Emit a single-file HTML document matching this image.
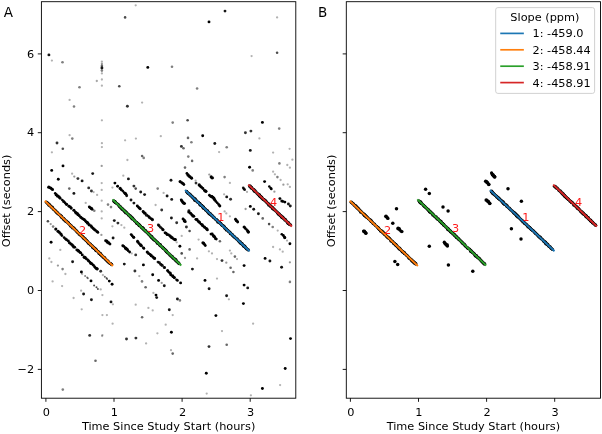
<!DOCTYPE html>
<html><head><meta charset="utf-8"><title>Figure</title>
<style>html,body{margin:0;padding:0;background:#fff}svg{display:block}</style></head>
<body>
<svg width="602" height="434" viewBox="0 0 602 434" font-family="DejaVu Sans, Liberation Sans, sans-serif" font-size="11.3">
<rect width="602" height="434" fill="#fff"/>
<filter id="soft" x="0" y="0" width="100%" height="100%" filterUnits="userSpaceOnUse"><feGaussianBlur stdDeviation="0.38"/></filter>
<g filter="url(#soft)">
<rect width="602" height="434" fill="#fff"/>
<clipPath id="cA"><rect x="41.4" y="1.7" width="254.4" height="396.5"/></clipPath>
<g clip-path="url(#cA)">
<circle cx="135.7" cy="5.3" r="1.15" fill="#000" fill-opacity="0.3"/>
<circle cx="125.1" cy="17.4" r="1.3" fill="#000" fill-opacity="0.7"/>
<circle cx="48.9" cy="54.9" r="1.45" fill="#000" fill-opacity="0.9"/>
<circle cx="51.9" cy="60.6" r="1.15" fill="#000" fill-opacity="0.3"/>
<circle cx="62.5" cy="62.3" r="1.3" fill="#000" fill-opacity="0.5"/>
<circle cx="101.9" cy="61.7" r="1.15" fill="#000" fill-opacity="0.3"/>
<circle cx="101.9" cy="63.8" r="1.15" fill="#000" fill-opacity="0.4"/>
<circle cx="101.9" cy="65.9" r="1.3" fill="#000" fill-opacity="0.6"/>
<circle cx="101.9" cy="68.0" r="1.45" fill="#000" fill-opacity="0.9"/>
<circle cx="101.9" cy="70.6" r="1.3" fill="#000" fill-opacity="0.5"/>
<circle cx="101.9" cy="73.4" r="1.15" fill="#000" fill-opacity="0.3"/>
<circle cx="147.8" cy="67.4" r="1.45" fill="#000" fill-opacity="1"/>
<circle cx="96.8" cy="81.0" r="1.15" fill="#000" fill-opacity="0.35"/>
<circle cx="101.9" cy="79.5" r="1.15" fill="#000" fill-opacity="0.3"/>
<circle cx="101.9" cy="85.7" r="1.15" fill="#000" fill-opacity="0.3"/>
<circle cx="79.5" cy="87.2" r="1.3" fill="#000" fill-opacity="0.5"/>
<circle cx="119.3" cy="86.3" r="1.3" fill="#000" fill-opacity="0.7"/>
<circle cx="225.0" cy="11.1" r="1.45" fill="#000" fill-opacity="0.9"/>
<circle cx="209.0" cy="21.9" r="1.45" fill="#000" fill-opacity="1"/>
<circle cx="277.1" cy="17.4" r="1.15" fill="#000" fill-opacity="0.3"/>
<circle cx="277.1" cy="52.7" r="1.3" fill="#000" fill-opacity="0.7"/>
<circle cx="251.6" cy="56.1" r="1.15" fill="#000" fill-opacity="0.3"/>
<circle cx="172.0" cy="66.8" r="1.3" fill="#000" fill-opacity="0.5"/>
<circle cx="197.1" cy="88.5" r="1.3" fill="#000" fill-opacity="0.5"/>
<circle cx="69.6" cy="99.9" r="1.15" fill="#000" fill-opacity="0.3"/>
<circle cx="74.0" cy="106.5" r="1.3" fill="#000" fill-opacity="0.5"/>
<circle cx="127.4" cy="106.2" r="1.45" fill="#000" fill-opacity="0.8"/>
<circle cx="142.1" cy="102.6" r="1.15" fill="#000" fill-opacity="0.3"/>
<circle cx="101.9" cy="120.3" r="1.15" fill="#000" fill-opacity="0.3"/>
<circle cx="69.6" cy="135.2" r="1.15" fill="#000" fill-opacity="0.3"/>
<circle cx="72.3" cy="138.6" r="1.3" fill="#000" fill-opacity="0.5"/>
<circle cx="57.0" cy="143.0" r="1.45" fill="#000" fill-opacity="0.8"/>
<circle cx="62.8" cy="148.8" r="1.3" fill="#000" fill-opacity="0.7"/>
<circle cx="101.9" cy="143.2" r="1.15" fill="#000" fill-opacity="0.3"/>
<circle cx="101.9" cy="147.1" r="1.15" fill="#000" fill-opacity="0.3"/>
<circle cx="125.1" cy="140.3" r="1.15" fill="#000" fill-opacity="0.3"/>
<circle cx="135.9" cy="138.6" r="1.15" fill="#000" fill-opacity="0.3"/>
<circle cx="160.8" cy="136.2" r="1.15" fill="#000" fill-opacity="0.3"/>
<circle cx="172.7" cy="122.6" r="1.3" fill="#000" fill-opacity="0.5"/>
<circle cx="187.6" cy="120.3" r="1.3" fill="#000" fill-opacity="0.7"/>
<circle cx="262.4" cy="122.4" r="1.45" fill="#000" fill-opacity="1"/>
<circle cx="279.2" cy="128.6" r="1.3" fill="#000" fill-opacity="0.5"/>
<circle cx="250.9" cy="131.1" r="1.45" fill="#000" fill-opacity="0.8"/>
<circle cx="245.4" cy="132.8" r="1.45" fill="#000" fill-opacity="0.8"/>
<circle cx="202.7" cy="135.8" r="1.45" fill="#000" fill-opacity="1"/>
<circle cx="188.0" cy="137.9" r="1.3" fill="#000" fill-opacity="0.6"/>
<circle cx="191.4" cy="142.2" r="1.3" fill="#000" fill-opacity="0.5"/>
<circle cx="259.4" cy="138.4" r="1.15" fill="#000" fill-opacity="0.3"/>
<circle cx="214.8" cy="143.5" r="1.45" fill="#000" fill-opacity="0.9"/>
<circle cx="181.4" cy="146.4" r="1.45" fill="#000" fill-opacity="0.8"/>
<circle cx="183.5" cy="148.3" r="1.3" fill="#000" fill-opacity="0.6"/>
<circle cx="226.7" cy="147.3" r="1.3" fill="#000" fill-opacity="0.5"/>
<circle cx="51.9" cy="152.3" r="1.15" fill="#000" fill-opacity="0.3"/>
<circle cx="63.0" cy="165.9" r="1.45" fill="#000" fill-opacity="1"/>
<circle cx="51.7" cy="170.4" r="1.45" fill="#000" fill-opacity="1"/>
<circle cx="58.3" cy="179.3" r="1.45" fill="#000" fill-opacity="1"/>
<circle cx="101.7" cy="165.9" r="1.15" fill="#000" fill-opacity="0.4"/>
<circle cx="92.7" cy="173.6" r="1.45" fill="#000" fill-opacity="0.9"/>
<circle cx="123.3" cy="175.7" r="1.15" fill="#000" fill-opacity="0.3"/>
<circle cx="72.1" cy="173.7" r="1.15" fill="#000" fill-opacity="0.3"/>
<circle cx="74.3" cy="176.6" r="1.15" fill="#000" fill-opacity="0.4"/>
<circle cx="77.9" cy="178.6" r="1.45" fill="#000" fill-opacity="0.8"/>
<circle cx="82.1" cy="180.9" r="1.45" fill="#000" fill-opacity="0.9"/>
<circle cx="101.7" cy="183.1" r="1.15" fill="#000" fill-opacity="0.3"/>
<circle cx="69.3" cy="188.6" r="1.3" fill="#000" fill-opacity="0.6"/>
<circle cx="73.9" cy="193.4" r="1.45" fill="#000" fill-opacity="0.9"/>
<circle cx="88.7" cy="187.9" r="1.45" fill="#000" fill-opacity="0.8"/>
<circle cx="91.4" cy="191.0" r="1.45" fill="#000" fill-opacity="0.8"/>
<circle cx="93.6" cy="192.1" r="1.15" fill="#000" fill-opacity="0.3"/>
<circle cx="101.7" cy="189.9" r="1.15" fill="#000" fill-opacity="0.3"/>
<circle cx="97.1" cy="194.9" r="1.15" fill="#000" fill-opacity="0.3"/>
<circle cx="112.4" cy="187.6" r="1.15" fill="#000" fill-opacity="0.3"/>
<circle cx="114.9" cy="183.1" r="1.45" fill="#000" fill-opacity="1"/>
<circle cx="117.6" cy="186.3" r="1.45" fill="#000" fill-opacity="1"/>
<circle cx="120.2" cy="188.4" r="1.59" fill="#000" fill-opacity="1"/>
<circle cx="121.4" cy="189.9" r="1.43" fill="#000" fill-opacity="1"/>
<circle cx="122.8" cy="190.9" r="1.26" fill="#000" fill-opacity="1"/>
<circle cx="124.0" cy="192.6" r="1.25" fill="#000" fill-opacity="1"/>
<circle cx="125.3" cy="193.4" r="1.63" fill="#000" fill-opacity="1"/>
<circle cx="126.0" cy="194.3" r="1.4" fill="#000" fill-opacity="1"/>
<circle cx="48.8" cy="187.2" r="1.63" fill="#000" fill-opacity="1"/>
<circle cx="50.1" cy="187.8" r="1.42" fill="#000" fill-opacity="1"/>
<circle cx="50.9" cy="188.3" r="1.43" fill="#000" fill-opacity="1"/>
<circle cx="52.1" cy="189.2" r="1.34" fill="#000" fill-opacity="1"/>
<circle cx="52.6" cy="189.7" r="1.4" fill="#000" fill-opacity="1"/>
<circle cx="101.7" cy="200.7" r="1.15" fill="#000" fill-opacity="0.3"/>
<circle cx="85.7" cy="202.9" r="1.15" fill="#000" fill-opacity="0.3"/>
<circle cx="89.3" cy="206.8" r="1.37" fill="#000" fill-opacity="1"/>
<circle cx="89.9" cy="207.6" r="1.47" fill="#000" fill-opacity="1"/>
<circle cx="91.4" cy="208.4" r="1.65" fill="#000" fill-opacity="1"/>
<circle cx="92.1" cy="209.3" r="1.4" fill="#000" fill-opacity="1"/>
<circle cx="94.3" cy="210.7" r="1.3" fill="#000" fill-opacity="0.5"/>
<circle cx="108.0" cy="204.6" r="1.3" fill="#000" fill-opacity="0.5"/>
<circle cx="111.0" cy="207.1" r="1.3" fill="#000" fill-opacity="0.5"/>
<circle cx="101.7" cy="211.4" r="1.15" fill="#000" fill-opacity="0.3"/>
<circle cx="127.4" cy="160.0" r="1.15" fill="#000" fill-opacity="0.3"/>
<circle cx="142.1" cy="156.0" r="1.3" fill="#000" fill-opacity="0.6"/>
<circle cx="143.7" cy="157.9" r="1.3" fill="#000" fill-opacity="0.5"/>
<circle cx="188.3" cy="156.6" r="1.3" fill="#000" fill-opacity="0.5"/>
<circle cx="192.1" cy="160.9" r="1.3" fill="#000" fill-opacity="0.6"/>
<circle cx="185.0" cy="167.6" r="1.3" fill="#000" fill-opacity="0.6"/>
<circle cx="128.4" cy="178.9" r="1.45" fill="#000" fill-opacity="0.9"/>
<circle cx="171.0" cy="180.3" r="1.45" fill="#000" fill-opacity="0.9"/>
<circle cx="186.9" cy="173.4" r="1.38" fill="#000" fill-opacity="1"/>
<circle cx="188.0" cy="174.9" r="1.62" fill="#000" fill-opacity="1"/>
<circle cx="189.0" cy="176.0" r="1.52" fill="#000" fill-opacity="1"/>
<circle cx="190.0" cy="176.8" r="1.6" fill="#000" fill-opacity="1"/>
<circle cx="191.5" cy="178.1" r="1.49" fill="#000" fill-opacity="1"/>
<circle cx="191.7" cy="178.3" r="1.4" fill="#000" fill-opacity="1"/>
<circle cx="195.6" cy="180.7" r="1.15" fill="#000" fill-opacity="0.3"/>
<circle cx="196.0" cy="183.1" r="1.45" fill="#000" fill-opacity="0.8"/>
<circle cx="199.2" cy="184.9" r="1.57" fill="#000" fill-opacity="1"/>
<circle cx="200.2" cy="186.0" r="1.53" fill="#000" fill-opacity="1"/>
<circle cx="201.5" cy="187.2" r="1.45" fill="#000" fill-opacity="1"/>
<circle cx="202.9" cy="188.5" r="1.45" fill="#000" fill-opacity="1"/>
<circle cx="204.5" cy="190.4" r="1.49" fill="#000" fill-opacity="1"/>
<circle cx="205.7" cy="191.2" r="1.64" fill="#000" fill-opacity="1"/>
<circle cx="206.0" cy="191.4" r="1.4" fill="#000" fill-opacity="1"/>
<circle cx="209.4" cy="195.2" r="1.34" fill="#000" fill-opacity="1"/>
<circle cx="210.6" cy="196.2" r="1.48" fill="#000" fill-opacity="1"/>
<circle cx="212.0" cy="196.9" r="1.47" fill="#000" fill-opacity="1"/>
<circle cx="212.0" cy="197.1" r="1.4" fill="#000" fill-opacity="1"/>
<circle cx="209.3" cy="174.6" r="1.15" fill="#000" fill-opacity="0.4"/>
<circle cx="211.2" cy="176.9" r="1.56" fill="#000" fill-opacity="1"/>
<circle cx="212.0" cy="178.1" r="1.4" fill="#000" fill-opacity="1"/>
<circle cx="180.1" cy="181.6" r="1.55" fill="#000" fill-opacity="1"/>
<circle cx="181.7" cy="182.7" r="1.47" fill="#000" fill-opacity="1"/>
<circle cx="183.0" cy="183.5" r="1.6" fill="#000" fill-opacity="1"/>
<circle cx="183.9" cy="184.6" r="1.4" fill="#000" fill-opacity="1"/>
<circle cx="133.9" cy="186.1" r="1.45" fill="#000" fill-opacity="0.8"/>
<circle cx="135.7" cy="188.6" r="1.3" fill="#000" fill-opacity="0.7"/>
<circle cx="157.7" cy="188.6" r="1.3" fill="#000" fill-opacity="0.5"/>
<circle cx="140.7" cy="192.0" r="1.45" fill="#000" fill-opacity="0.9"/>
<circle cx="144.6" cy="194.6" r="1.45" fill="#000" fill-opacity="0.9"/>
<circle cx="163.6" cy="192.9" r="1.15" fill="#000" fill-opacity="0.3"/>
<circle cx="167.1" cy="196.0" r="1.45" fill="#000" fill-opacity="0.9"/>
<circle cx="171.7" cy="199.4" r="1.45" fill="#000" fill-opacity="0.9"/>
<circle cx="126.7" cy="195.7" r="1.45" fill="#000" fill-opacity="0.9"/>
<circle cx="131.0" cy="200.0" r="1.45" fill="#000" fill-opacity="0.9"/>
<circle cx="133.9" cy="203.1" r="1.45" fill="#000" fill-opacity="0.9"/>
<circle cx="137.3" cy="206.0" r="1.45" fill="#000" fill-opacity="1"/>
<circle cx="138.4" cy="207.1" r="1.39" fill="#000" fill-opacity="1"/>
<circle cx="139.5" cy="208.2" r="1.49" fill="#000" fill-opacity="1"/>
<circle cx="140.3" cy="208.9" r="1.4" fill="#000" fill-opacity="1"/>
<circle cx="143.1" cy="211.4" r="1.45" fill="#000" fill-opacity="0.9"/>
<circle cx="181.2" cy="199.8" r="1.34" fill="#000" fill-opacity="1"/>
<circle cx="181.8" cy="200.8" r="1.59" fill="#000" fill-opacity="1"/>
<circle cx="183.0" cy="202.3" r="1.58" fill="#000" fill-opacity="1"/>
<circle cx="183.9" cy="203.2" r="1.52" fill="#000" fill-opacity="1"/>
<circle cx="184.6" cy="203.6" r="1.4" fill="#000" fill-opacity="1"/>
<circle cx="155.6" cy="205.0" r="1.15" fill="#000" fill-opacity="0.3"/>
<circle cx="161.7" cy="210.0" r="1.45" fill="#000" fill-opacity="0.8"/>
<circle cx="188.9" cy="210.7" r="1.45" fill="#000" fill-opacity="0.8"/>
<circle cx="219.1" cy="152.1" r="1.15" fill="#000" fill-opacity="0.3"/>
<circle cx="250.3" cy="150.4" r="1.45" fill="#000" fill-opacity="0.9"/>
<circle cx="273.1" cy="152.6" r="1.15" fill="#000" fill-opacity="0.3"/>
<circle cx="292.4" cy="159.7" r="1.15" fill="#000" fill-opacity="0.3"/>
<circle cx="279.4" cy="163.4" r="1.3" fill="#000" fill-opacity="0.5"/>
<circle cx="287.3" cy="165.0" r="1.15" fill="#000" fill-opacity="0.3"/>
<circle cx="289.9" cy="167.7" r="1.15" fill="#000" fill-opacity="0.3"/>
<circle cx="249.6" cy="167.3" r="1.45" fill="#000" fill-opacity="1"/>
<circle cx="252.7" cy="170.4" r="1.3" fill="#000" fill-opacity="0.5"/>
<circle cx="273.1" cy="171.7" r="1.15" fill="#000" fill-opacity="0.3"/>
<circle cx="274.9" cy="174.3" r="1.15" fill="#000" fill-opacity="0.3"/>
<circle cx="277.4" cy="177.1" r="1.3" fill="#000" fill-opacity="0.5"/>
<circle cx="280.6" cy="180.0" r="1.15" fill="#000" fill-opacity="0.3"/>
<circle cx="224.6" cy="177.1" r="1.3" fill="#000" fill-opacity="0.5"/>
<circle cx="212.7" cy="177.9" r="1.45" fill="#000" fill-opacity="0.8"/>
<circle cx="229.9" cy="182.9" r="1.15" fill="#000" fill-opacity="0.3"/>
<circle cx="264.6" cy="181.6" r="1.45" fill="#000" fill-opacity="1"/>
<circle cx="283.4" cy="184.7" r="1.15" fill="#000" fill-opacity="0.4"/>
<circle cx="287.7" cy="184.3" r="1.15" fill="#000" fill-opacity="0.3"/>
<circle cx="289.9" cy="186.9" r="1.15" fill="#000" fill-opacity="0.3"/>
<circle cx="269.3" cy="186.6" r="1.26" fill="#000" fill-opacity="1"/>
<circle cx="270.6" cy="188.0" r="1.29" fill="#000" fill-opacity="1"/>
<circle cx="271.3" cy="188.9" r="1.4" fill="#000" fill-opacity="1"/>
<circle cx="274.4" cy="191.7" r="1.15" fill="#000" fill-opacity="0.4"/>
<circle cx="243.2" cy="187.8" r="1.28" fill="#000" fill-opacity="0.9"/>
<circle cx="243.8" cy="188.7" r="1.32" fill="#000" fill-opacity="0.9"/>
<circle cx="244.6" cy="189.7" r="1.4" fill="#000" fill-opacity="0.9"/>
<circle cx="247.0" cy="191.9" r="1.15" fill="#000" fill-opacity="0.3"/>
<circle cx="224.1" cy="194.3" r="1.15" fill="#000" fill-opacity="0.3"/>
<circle cx="226.7" cy="196.9" r="1.45" fill="#000" fill-opacity="0.9"/>
<circle cx="230.6" cy="199.3" r="1.45" fill="#000" fill-opacity="0.8"/>
<circle cx="211.9" cy="196.5" r="1.43" fill="#000" fill-opacity="1"/>
<circle cx="213.1" cy="197.3" r="1.4" fill="#000" fill-opacity="1"/>
<circle cx="213.9" cy="198.4" r="1.61" fill="#000" fill-opacity="1"/>
<circle cx="214.7" cy="199.8" r="1.58" fill="#000" fill-opacity="1"/>
<circle cx="215.9" cy="201.4" r="1.31" fill="#000" fill-opacity="1"/>
<circle cx="217.2" cy="202.8" r="1.34" fill="#000" fill-opacity="1"/>
<circle cx="218.6" cy="204.4" r="1.34" fill="#000" fill-opacity="1"/>
<circle cx="219.6" cy="205.8" r="1.38" fill="#000" fill-opacity="1"/>
<circle cx="219.9" cy="206.0" r="1.4" fill="#000" fill-opacity="1"/>
<circle cx="279.9" cy="198.6" r="1.45" fill="#000" fill-opacity="1"/>
<circle cx="281.9" cy="201.0" r="1.6" fill="#000" fill-opacity="1"/>
<circle cx="283.1" cy="201.5" r="1.37" fill="#000" fill-opacity="1"/>
<circle cx="284.9" cy="202.1" r="1.4" fill="#000" fill-opacity="1"/>
<circle cx="288.4" cy="204.0" r="1.45" fill="#000" fill-opacity="0.9"/>
<circle cx="290.3" cy="206.0" r="1.45" fill="#000" fill-opacity="0.9"/>
<circle cx="250.3" cy="206.4" r="1.45" fill="#000" fill-opacity="1"/>
<circle cx="253.7" cy="209.3" r="1.45" fill="#000" fill-opacity="0.9"/>
<circle cx="245.6" cy="209.0" r="1.15" fill="#000" fill-opacity="0.4"/>
<circle cx="224.6" cy="211.4" r="1.15" fill="#000" fill-opacity="0.3"/>
<circle cx="101.4" cy="234.9" r="1.15" fill="#000" fill-opacity="0.4"/>
<circle cx="105.6" cy="240.7" r="1.42" fill="#000" fill-opacity="1"/>
<circle cx="106.8" cy="241.1" r="1.6" fill="#000" fill-opacity="1"/>
<circle cx="107.3" cy="242.1" r="1.63" fill="#000" fill-opacity="1"/>
<circle cx="108.8" cy="242.9" r="1.6" fill="#000" fill-opacity="1"/>
<circle cx="110.0" cy="244.1" r="1.4" fill="#000" fill-opacity="1"/>
<circle cx="101.7" cy="218.4" r="1.15" fill="#000" fill-opacity="0.3"/>
<circle cx="114.3" cy="220.6" r="1.45" fill="#000" fill-opacity="0.9"/>
<circle cx="117.9" cy="223.1" r="1.45" fill="#000" fill-opacity="0.8"/>
<circle cx="121.4" cy="225.1" r="1.15" fill="#000" fill-opacity="0.3"/>
<circle cx="124.3" cy="227.7" r="1.15" fill="#000" fill-opacity="0.3"/>
<circle cx="112.4" cy="226.3" r="1.15" fill="#000" fill-opacity="0.3"/>
<circle cx="113.1" cy="238.0" r="1.45" fill="#000" fill-opacity="0.9"/>
<circle cx="122.8" cy="245.7" r="1.45" fill="#000" fill-opacity="1"/>
<circle cx="123.9" cy="246.4" r="1.33" fill="#000" fill-opacity="1"/>
<circle cx="125.2" cy="247.7" r="1.33" fill="#000" fill-opacity="1"/>
<circle cx="125.9" cy="248.5" r="1.37" fill="#000" fill-opacity="1"/>
<circle cx="126.0" cy="248.4" r="1.4" fill="#000" fill-opacity="1"/>
<circle cx="47.9" cy="221.3" r="1.3" fill="#000" fill-opacity="0.7"/>
<circle cx="50.7" cy="224.1" r="1.15" fill="#000" fill-opacity="0.4"/>
<circle cx="53.1" cy="226.6" r="1.3" fill="#000" fill-opacity="0.5"/>
<circle cx="55.8" cy="229.1" r="1.6" fill="#000" fill-opacity="1"/>
<circle cx="58.1" cy="231.3" r="1.64" fill="#000" fill-opacity="1"/>
<circle cx="59.5" cy="232.6" r="1.52" fill="#000" fill-opacity="1"/>
<circle cx="60.9" cy="234.0" r="1.6" fill="#000" fill-opacity="1"/>
<circle cx="61.9" cy="235.6" r="1.34" fill="#000" fill-opacity="1"/>
<circle cx="64.1" cy="237.6" r="1.34" fill="#000" fill-opacity="1"/>
<circle cx="65.5" cy="238.9" r="1.4" fill="#000" fill-opacity="1"/>
<circle cx="66.5" cy="239.8" r="1.49" fill="#000" fill-opacity="1"/>
<circle cx="68.3" cy="241.0" r="1.47" fill="#000" fill-opacity="1"/>
<circle cx="69.5" cy="242.8" r="1.57" fill="#000" fill-opacity="1"/>
<circle cx="71.0" cy="244.0" r="1.56" fill="#000" fill-opacity="1"/>
<circle cx="72.2" cy="244.8" r="1.28" fill="#000" fill-opacity="1"/>
<circle cx="72.9" cy="245.8" r="1.62" fill="#000" fill-opacity="1"/>
<circle cx="73.9" cy="247.0" r="1.58" fill="#000" fill-opacity="1"/>
<circle cx="74.9" cy="247.3" r="1.3" fill="#000" fill-opacity="1"/>
<circle cx="76.8" cy="249.9" r="1.42" fill="#000" fill-opacity="1"/>
<circle cx="77.9" cy="250.3" r="1.55" fill="#000" fill-opacity="1"/>
<circle cx="78.6" cy="251.1" r="1.64" fill="#000" fill-opacity="1"/>
<circle cx="80.1" cy="252.5" r="1.44" fill="#000" fill-opacity="1"/>
<circle cx="81.0" cy="253.1" r="1.25" fill="#000" fill-opacity="1"/>
<circle cx="82.3" cy="254.9" r="1.43" fill="#000" fill-opacity="1"/>
<circle cx="84.3" cy="257.2" r="1.64" fill="#000" fill-opacity="1"/>
<circle cx="85.2" cy="257.7" r="1.64" fill="#000" fill-opacity="1"/>
<circle cx="86.4" cy="258.9" r="1.35" fill="#000" fill-opacity="1"/>
<circle cx="87.7" cy="259.8" r="1.28" fill="#000" fill-opacity="1"/>
<circle cx="88.5" cy="260.8" r="1.51" fill="#000" fill-opacity="1"/>
<circle cx="89.8" cy="262.0" r="1.37" fill="#000" fill-opacity="1"/>
<circle cx="90.6" cy="263.1" r="1.61" fill="#000" fill-opacity="1"/>
<circle cx="91.6" cy="263.8" r="1.48" fill="#000" fill-opacity="1"/>
<circle cx="93.0" cy="264.8" r="1.35" fill="#000" fill-opacity="1"/>
<circle cx="93.7" cy="265.5" r="1.28" fill="#000" fill-opacity="1"/>
<circle cx="94.7" cy="267.0" r="1.45" fill="#000" fill-opacity="1"/>
<circle cx="96.2" cy="268.3" r="1.57" fill="#000" fill-opacity="1"/>
<circle cx="97.1" cy="268.8" r="1.56" fill="#000" fill-opacity="1"/>
<circle cx="97.1" cy="269.1" r="1.4" fill="#000" fill-opacity="1"/>
<circle cx="100.7" cy="271.3" r="1.45" fill="#000" fill-opacity="0.8"/>
<circle cx="51.1" cy="242.3" r="1.45" fill="#000" fill-opacity="1"/>
<circle cx="60.3" cy="249.9" r="1.15" fill="#000" fill-opacity="0.3"/>
<circle cx="49.3" cy="258.4" r="1.15" fill="#000" fill-opacity="0.3"/>
<circle cx="51.4" cy="262.0" r="1.15" fill="#000" fill-opacity="0.3"/>
<circle cx="57.9" cy="265.6" r="1.15" fill="#000" fill-opacity="0.4"/>
<circle cx="62.6" cy="269.1" r="1.3" fill="#000" fill-opacity="0.5"/>
<circle cx="72.6" cy="261.7" r="1.45" fill="#000" fill-opacity="0.9"/>
<circle cx="81.4" cy="272.0" r="1.45" fill="#000" fill-opacity="1"/>
<circle cx="124.3" cy="264.1" r="1.45" fill="#000" fill-opacity="0.9"/>
<circle cx="143.2" cy="211.9" r="1.29" fill="#000" fill-opacity="0.9"/>
<circle cx="144.4" cy="212.9" r="1.61" fill="#000" fill-opacity="0.9"/>
<circle cx="145.3" cy="213.5" r="1.38" fill="#000" fill-opacity="0.9"/>
<circle cx="146.6" cy="215.2" r="1.59" fill="#000" fill-opacity="0.9"/>
<circle cx="148.3" cy="216.1" r="1.42" fill="#000" fill-opacity="0.9"/>
<circle cx="149.0" cy="217.1" r="1.35" fill="#000" fill-opacity="0.9"/>
<circle cx="149.7" cy="217.8" r="1.47" fill="#000" fill-opacity="0.9"/>
<circle cx="151.0" cy="218.6" r="1.41" fill="#000" fill-opacity="0.9"/>
<circle cx="152.2" cy="219.3" r="1.51" fill="#000" fill-opacity="0.9"/>
<circle cx="152.4" cy="219.9" r="1.4" fill="#000" fill-opacity="0.9"/>
<circle cx="158.3" cy="225.0" r="1.39" fill="#000" fill-opacity="0.9"/>
<circle cx="159.1" cy="225.7" r="1.35" fill="#000" fill-opacity="0.9"/>
<circle cx="160.4" cy="227.2" r="1.41" fill="#000" fill-opacity="0.9"/>
<circle cx="161.7" cy="228.3" r="1.25" fill="#000" fill-opacity="0.9"/>
<circle cx="162.8" cy="229.5" r="1.51" fill="#000" fill-opacity="0.9"/>
<circle cx="163.1" cy="229.9" r="1.4" fill="#000" fill-opacity="0.9"/>
<circle cx="165.2" cy="232.8" r="1.54" fill="#000" fill-opacity="1"/>
<circle cx="166.3" cy="233.4" r="1.34" fill="#000" fill-opacity="1"/>
<circle cx="167.3" cy="234.5" r="1.62" fill="#000" fill-opacity="1"/>
<circle cx="168.6" cy="234.8" r="1.28" fill="#000" fill-opacity="1"/>
<circle cx="169.9" cy="235.7" r="1.56" fill="#000" fill-opacity="1"/>
<circle cx="171.3" cy="237.2" r="1.59" fill="#000" fill-opacity="1"/>
<circle cx="172.4" cy="238.0" r="1.49" fill="#000" fill-opacity="1"/>
<circle cx="174.0" cy="239.3" r="1.48" fill="#000" fill-opacity="1"/>
<circle cx="175.2" cy="239.6" r="1.48" fill="#000" fill-opacity="1"/>
<circle cx="175.3" cy="239.9" r="1.4" fill="#000" fill-opacity="1"/>
<circle cx="176.7" cy="242.3" r="1.15" fill="#000" fill-opacity="0.3"/>
<circle cx="179.9" cy="246.3" r="1.45" fill="#000" fill-opacity="1"/>
<circle cx="181.7" cy="253.4" r="1.3" fill="#000" fill-opacity="0.7"/>
<circle cx="185.0" cy="258.0" r="1.15" fill="#000" fill-opacity="0.4"/>
<circle cx="171.4" cy="218.0" r="1.45" fill="#000" fill-opacity="0.9"/>
<circle cx="176.7" cy="222.7" r="1.45" fill="#000" fill-opacity="0.8"/>
<circle cx="183.0" cy="218.9" r="1.39" fill="#000" fill-opacity="1"/>
<circle cx="184.2" cy="220.0" r="1.54" fill="#000" fill-opacity="1"/>
<circle cx="184.4" cy="221.0" r="1.57" fill="#000" fill-opacity="1"/>
<circle cx="185.3" cy="221.7" r="1.4" fill="#000" fill-opacity="1"/>
<circle cx="186.4" cy="227.0" r="1.45" fill="#000" fill-opacity="0.8"/>
<circle cx="189.6" cy="231.0" r="1.3" fill="#000" fill-opacity="0.7"/>
<circle cx="181.7" cy="235.9" r="1.15" fill="#000" fill-opacity="0.3"/>
<circle cx="188.9" cy="211.9" r="1.62" fill="#000" fill-opacity="1"/>
<circle cx="190.6" cy="213.2" r="1.56" fill="#000" fill-opacity="1"/>
<circle cx="191.9" cy="214.8" r="1.53" fill="#000" fill-opacity="1"/>
<circle cx="193.0" cy="215.9" r="1.64" fill="#000" fill-opacity="1"/>
<circle cx="193.9" cy="216.3" r="1.4" fill="#000" fill-opacity="1"/>
<circle cx="195.9" cy="219.3" r="1.42" fill="#000" fill-opacity="1"/>
<circle cx="197.0" cy="219.7" r="1.61" fill="#000" fill-opacity="1"/>
<circle cx="198.3" cy="221.4" r="1.41" fill="#000" fill-opacity="1"/>
<circle cx="199.3" cy="222.0" r="1.55" fill="#000" fill-opacity="1"/>
<circle cx="199.8" cy="222.7" r="1.26" fill="#000" fill-opacity="1"/>
<circle cx="200.9" cy="224.0" r="1.33" fill="#000" fill-opacity="1"/>
<circle cx="202.1" cy="224.7" r="1.48" fill="#000" fill-opacity="1"/>
<circle cx="202.8" cy="225.7" r="1.57" fill="#000" fill-opacity="1"/>
<circle cx="204.5" cy="227.1" r="1.59" fill="#000" fill-opacity="1"/>
<circle cx="205.9" cy="228.3" r="1.36" fill="#000" fill-opacity="1"/>
<circle cx="206.8" cy="228.9" r="1.55" fill="#000" fill-opacity="1"/>
<circle cx="207.4" cy="229.9" r="1.4" fill="#000" fill-opacity="1"/>
<circle cx="211.0" cy="234.1" r="1.45" fill="#000" fill-opacity="1"/>
<circle cx="198.6" cy="239.6" r="1.15" fill="#000" fill-opacity="0.3"/>
<circle cx="203.0" cy="242.8" r="1.64" fill="#000" fill-opacity="1"/>
<circle cx="203.8" cy="243.6" r="1.48" fill="#000" fill-opacity="1"/>
<circle cx="204.6" cy="244.6" r="1.39" fill="#000" fill-opacity="1"/>
<circle cx="205.3" cy="245.6" r="1.4" fill="#000" fill-opacity="1"/>
<circle cx="208.9" cy="251.3" r="1.15" fill="#000" fill-opacity="0.3"/>
<circle cx="189.6" cy="249.4" r="1.3" fill="#000" fill-opacity="0.6"/>
<circle cx="197.1" cy="258.4" r="1.15" fill="#000" fill-opacity="0.3"/>
<circle cx="131.2" cy="234.6" r="1.43" fill="#000" fill-opacity="1"/>
<circle cx="132.2" cy="235.8" r="1.41" fill="#000" fill-opacity="1"/>
<circle cx="133.5" cy="237.2" r="1.45" fill="#000" fill-opacity="1"/>
<circle cx="133.9" cy="237.4" r="1.4" fill="#000" fill-opacity="1"/>
<circle cx="137.5" cy="241.2" r="1.33" fill="#000" fill-opacity="1"/>
<circle cx="138.0" cy="242.0" r="1.6" fill="#000" fill-opacity="1"/>
<circle cx="139.1" cy="243.6" r="1.43" fill="#000" fill-opacity="1"/>
<circle cx="140.6" cy="245.0" r="1.65" fill="#000" fill-opacity="1"/>
<circle cx="141.5" cy="245.9" r="1.46" fill="#000" fill-opacity="1"/>
<circle cx="143.4" cy="247.8" r="1.41" fill="#000" fill-opacity="1"/>
<circle cx="143.9" cy="248.4" r="1.4" fill="#000" fill-opacity="1"/>
<circle cx="147.3" cy="252.1" r="1.61" fill="#000" fill-opacity="1"/>
<circle cx="148.7" cy="253.4" r="1.51" fill="#000" fill-opacity="1"/>
<circle cx="150.2" cy="254.4" r="1.5" fill="#000" fill-opacity="1"/>
<circle cx="151.3" cy="255.7" r="1.59" fill="#000" fill-opacity="1"/>
<circle cx="152.8" cy="256.9" r="1.39" fill="#000" fill-opacity="1"/>
<circle cx="153.6" cy="257.8" r="1.47" fill="#000" fill-opacity="1"/>
<circle cx="154.6" cy="258.4" r="1.44" fill="#000" fill-opacity="1"/>
<circle cx="154.6" cy="258.4" r="1.4" fill="#000" fill-opacity="1"/>
<circle cx="158.0" cy="262.1" r="1.42" fill="#000" fill-opacity="0.9"/>
<circle cx="159.4" cy="262.7" r="1.45" fill="#000" fill-opacity="0.9"/>
<circle cx="160.8" cy="264.3" r="1.53" fill="#000" fill-opacity="0.9"/>
<circle cx="162.1" cy="265.3" r="1.6" fill="#000" fill-opacity="0.9"/>
<circle cx="164.2" cy="267.4" r="1.4" fill="#000" fill-opacity="0.9"/>
<circle cx="164.6" cy="267.7" r="1.4" fill="#000" fill-opacity="0.9"/>
<circle cx="167.6" cy="270.4" r="1.51" fill="#000" fill-opacity="1"/>
<circle cx="168.6" cy="272.0" r="1.36" fill="#000" fill-opacity="1"/>
<circle cx="170.0" cy="272.9" r="1.47" fill="#000" fill-opacity="1"/>
<circle cx="170.3" cy="273.4" r="1.4" fill="#000" fill-opacity="1"/>
<circle cx="125.9" cy="248.6" r="1.6" fill="#000" fill-opacity="1"/>
<circle cx="127.1" cy="249.3" r="1.64" fill="#000" fill-opacity="1"/>
<circle cx="128.1" cy="250.8" r="1.26" fill="#000" fill-opacity="1"/>
<circle cx="129.6" cy="252.0" r="1.4" fill="#000" fill-opacity="1"/>
<circle cx="131.7" cy="253.4" r="1.15" fill="#000" fill-opacity="0.3"/>
<circle cx="135.7" cy="254.9" r="1.45" fill="#000" fill-opacity="0.8"/>
<circle cx="143.4" cy="264.9" r="1.45" fill="#000" fill-opacity="1"/>
<circle cx="134.9" cy="271.0" r="1.45" fill="#000" fill-opacity="0.8"/>
<circle cx="192.4" cy="269.1" r="1.45" fill="#000" fill-opacity="0.9"/>
<circle cx="226.3" cy="213.4" r="1.15" fill="#000" fill-opacity="0.3"/>
<circle cx="229.9" cy="216.3" r="1.15" fill="#000" fill-opacity="0.3"/>
<circle cx="235.5" cy="219.2" r="1.38" fill="#000" fill-opacity="1"/>
<circle cx="236.3" cy="220.4" r="1.56" fill="#000" fill-opacity="1"/>
<circle cx="237.1" cy="221.3" r="1.32" fill="#000" fill-opacity="1"/>
<circle cx="237.7" cy="222.0" r="1.4" fill="#000" fill-opacity="1"/>
<circle cx="244.2" cy="227.0" r="1.62" fill="#000" fill-opacity="1"/>
<circle cx="245.3" cy="228.4" r="1.35" fill="#000" fill-opacity="1"/>
<circle cx="246.5" cy="229.5" r="1.31" fill="#000" fill-opacity="1"/>
<circle cx="247.6" cy="230.9" r="1.55" fill="#000" fill-opacity="1"/>
<circle cx="248.3" cy="232.0" r="1.54" fill="#000" fill-opacity="1"/>
<circle cx="248.4" cy="232.0" r="1.4" fill="#000" fill-opacity="1"/>
<circle cx="212.2" cy="234.0" r="1.41" fill="#000" fill-opacity="1"/>
<circle cx="213.2" cy="235.2" r="1.32" fill="#000" fill-opacity="1"/>
<circle cx="213.6" cy="236.1" r="1.61" fill="#000" fill-opacity="1"/>
<circle cx="214.6" cy="236.8" r="1.53" fill="#000" fill-opacity="1"/>
<circle cx="215.5" cy="238.6" r="1.5" fill="#000" fill-opacity="1"/>
<circle cx="216.3" cy="239.1" r="1.4" fill="#000" fill-opacity="1"/>
<circle cx="219.9" cy="241.3" r="1.3" fill="#000" fill-opacity="0.6"/>
<circle cx="258.4" cy="213.7" r="1.45" fill="#000" fill-opacity="0.9"/>
<circle cx="262.7" cy="218.4" r="1.3" fill="#000" fill-opacity="0.6"/>
<circle cx="269.1" cy="224.1" r="1.3" fill="#000" fill-opacity="0.7"/>
<circle cx="272.7" cy="227.0" r="1.3" fill="#000" fill-opacity="0.5"/>
<circle cx="277.7" cy="230.6" r="1.15" fill="#000" fill-opacity="0.3"/>
<circle cx="281.8" cy="234.3" r="1.3" fill="#000" fill-opacity="1"/>
<circle cx="283.3" cy="235.4" r="1.41" fill="#000" fill-opacity="1"/>
<circle cx="284.1" cy="236.7" r="1.32" fill="#000" fill-opacity="1"/>
<circle cx="284.7" cy="237.8" r="1.44" fill="#000" fill-opacity="1"/>
<circle cx="284.9" cy="237.7" r="1.4" fill="#000" fill-opacity="1"/>
<circle cx="287.0" cy="240.6" r="1.15" fill="#000" fill-opacity="0.3"/>
<circle cx="289.9" cy="243.7" r="1.45" fill="#000" fill-opacity="1"/>
<circle cx="273.1" cy="247.0" r="1.15" fill="#000" fill-opacity="0.3"/>
<circle cx="279.9" cy="249.4" r="1.15" fill="#000" fill-opacity="0.3"/>
<circle cx="282.7" cy="251.7" r="1.15" fill="#000" fill-opacity="0.3"/>
<circle cx="229.9" cy="250.6" r="1.15" fill="#000" fill-opacity="0.3"/>
<circle cx="231.3" cy="253.4" r="1.15" fill="#000" fill-opacity="0.3"/>
<circle cx="234.9" cy="256.6" r="1.3" fill="#000" fill-opacity="0.6"/>
<circle cx="237.0" cy="259.1" r="1.15" fill="#000" fill-opacity="0.3"/>
<circle cx="265.1" cy="258.4" r="1.45" fill="#000" fill-opacity="1"/>
<circle cx="269.9" cy="261.0" r="1.45" fill="#000" fill-opacity="0.9"/>
<circle cx="217.0" cy="259.1" r="1.15" fill="#000" fill-opacity="0.3"/>
<circle cx="222.0" cy="260.6" r="1.45" fill="#000" fill-opacity="0.8"/>
<circle cx="226.3" cy="262.7" r="1.15" fill="#000" fill-opacity="0.4"/>
<circle cx="230.6" cy="267.7" r="1.3" fill="#000" fill-opacity="0.6"/>
<circle cx="233.4" cy="272.0" r="1.3" fill="#000" fill-opacity="0.6"/>
<circle cx="244.1" cy="265.6" r="1.45" fill="#000" fill-opacity="1"/>
<circle cx="289.9" cy="262.3" r="1.15" fill="#000" fill-opacity="0.4"/>
<circle cx="281.6" cy="267.3" r="1.45" fill="#000" fill-opacity="0.9"/>
<circle cx="212.0" cy="253.4" r="1.15" fill="#000" fill-opacity="0.3"/>
<circle cx="52.6" cy="281.4" r="1.15" fill="#000" fill-opacity="0.3"/>
<circle cx="62.1" cy="286.1" r="1.15" fill="#000" fill-opacity="0.3"/>
<circle cx="65.4" cy="274.0" r="1.15" fill="#000" fill-opacity="0.3"/>
<circle cx="82.1" cy="274.0" r="1.15" fill="#000" fill-opacity="0.3"/>
<circle cx="85.1" cy="276.0" r="1.0" fill="#000" fill-opacity="0.5"/>
<circle cx="87.1" cy="277.6" r="1.0" fill="#000" fill-opacity="0.5"/>
<circle cx="87.9" cy="278.3" r="1.0" fill="#000" fill-opacity="0.5"/>
<circle cx="91.0" cy="280.9" r="1.45" fill="#000" fill-opacity="1"/>
<circle cx="94.1" cy="285.6" r="1.0" fill="#000" fill-opacity="0.7"/>
<circle cx="96.5" cy="287.2" r="1.0" fill="#000" fill-opacity="0.7"/>
<circle cx="97.9" cy="289.0" r="1.0" fill="#000" fill-opacity="0.7"/>
<circle cx="100.7" cy="289.4" r="1.15" fill="#000" fill-opacity="0.3"/>
<circle cx="102.9" cy="275.1" r="1.15" fill="#000" fill-opacity="0.3"/>
<circle cx="104.8" cy="276.7" r="1.0" fill="#000" fill-opacity="0.6"/>
<circle cx="106.5" cy="278.1" r="1.0" fill="#000" fill-opacity="0.6"/>
<circle cx="107.1" cy="279.0" r="1.0" fill="#000" fill-opacity="0.6"/>
<circle cx="109.3" cy="281.1" r="1.45" fill="#000" fill-opacity="1"/>
<circle cx="112.1" cy="284.3" r="1.45" fill="#000" fill-opacity="1"/>
<circle cx="81.1" cy="290.7" r="1.15" fill="#000" fill-opacity="0.3"/>
<circle cx="83.6" cy="294.0" r="1.45" fill="#000" fill-opacity="0.9"/>
<circle cx="73.6" cy="298.0" r="1.15" fill="#000" fill-opacity="0.3"/>
<circle cx="91.4" cy="299.7" r="1.45" fill="#000" fill-opacity="0.9"/>
<circle cx="102.4" cy="295.1" r="1.15" fill="#000" fill-opacity="0.3"/>
<circle cx="111.0" cy="301.9" r="1.45" fill="#000" fill-opacity="0.9"/>
<circle cx="112.9" cy="304.3" r="1.15" fill="#000" fill-opacity="0.3"/>
<circle cx="81.7" cy="309.3" r="1.15" fill="#000" fill-opacity="0.3"/>
<circle cx="102.4" cy="315.1" r="1.15" fill="#000" fill-opacity="0.3"/>
<circle cx="106.9" cy="315.1" r="1.15" fill="#000" fill-opacity="0.3"/>
<circle cx="112.6" cy="323.7" r="1.15" fill="#000" fill-opacity="0.3"/>
<circle cx="89.7" cy="335.4" r="1.45" fill="#000" fill-opacity="0.8"/>
<circle cx="102.4" cy="335.1" r="1.15" fill="#000" fill-opacity="0.3"/>
<circle cx="139.3" cy="276.1" r="1.15" fill="#000" fill-opacity="0.3"/>
<circle cx="142.0" cy="281.4" r="1.3" fill="#000" fill-opacity="0.5"/>
<circle cx="145.6" cy="287.3" r="1.3" fill="#000" fill-opacity="0.6"/>
<circle cx="152.7" cy="274.7" r="1.45" fill="#000" fill-opacity="1"/>
<circle cx="158.6" cy="280.4" r="1.45" fill="#000" fill-opacity="1"/>
<circle cx="161.7" cy="282.9" r="1.15" fill="#000" fill-opacity="0.4"/>
<circle cx="164.3" cy="285.7" r="1.45" fill="#000" fill-opacity="0.9"/>
<circle cx="170.8" cy="274.9" r="1.41" fill="#000" fill-opacity="1"/>
<circle cx="172.7" cy="275.9" r="1.62" fill="#000" fill-opacity="1"/>
<circle cx="173.1" cy="276.8" r="1.27" fill="#000" fill-opacity="1"/>
<circle cx="174.3" cy="277.6" r="1.59" fill="#000" fill-opacity="1"/>
<circle cx="176.5" cy="279.8" r="1.27" fill="#000" fill-opacity="1"/>
<circle cx="177.4" cy="280.4" r="1.4" fill="#000" fill-opacity="1"/>
<circle cx="180.6" cy="282.9" r="1.45" fill="#000" fill-opacity="1"/>
<circle cx="205.0" cy="280.4" r="1.45" fill="#000" fill-opacity="1"/>
<circle cx="209.1" cy="288.7" r="1.45" fill="#000" fill-opacity="0.9"/>
<circle cx="153.4" cy="292.9" r="1.15" fill="#000" fill-opacity="0.3"/>
<circle cx="156.0" cy="295.1" r="1.45" fill="#000" fill-opacity="1"/>
<circle cx="156.7" cy="297.6" r="1.45" fill="#000" fill-opacity="0.9"/>
<circle cx="177.4" cy="299.0" r="1.45" fill="#000" fill-opacity="0.9"/>
<circle cx="179.9" cy="300.4" r="1.3" fill="#000" fill-opacity="0.5"/>
<circle cx="135.7" cy="304.7" r="1.15" fill="#000" fill-opacity="0.3"/>
<circle cx="148.4" cy="307.9" r="1.15" fill="#000" fill-opacity="0.3"/>
<circle cx="152.7" cy="310.4" r="1.15" fill="#000" fill-opacity="0.3"/>
<circle cx="169.3" cy="309.7" r="1.45" fill="#000" fill-opacity="0.9"/>
<circle cx="172.7" cy="315.1" r="1.15" fill="#000" fill-opacity="0.3"/>
<circle cx="142.1" cy="317.3" r="1.3" fill="#000" fill-opacity="0.6"/>
<circle cx="165.7" cy="324.7" r="1.15" fill="#000" fill-opacity="0.3"/>
<circle cx="157.4" cy="333.3" r="1.15" fill="#000" fill-opacity="0.3"/>
<circle cx="171.4" cy="332.3" r="1.45" fill="#000" fill-opacity="1"/>
<circle cx="217.0" cy="278.6" r="1.15" fill="#000" fill-opacity="0.3"/>
<circle cx="289.9" cy="281.9" r="1.3" fill="#000" fill-opacity="0.5"/>
<circle cx="244.1" cy="285.1" r="1.45" fill="#000" fill-opacity="1"/>
<circle cx="247.7" cy="287.9" r="1.45" fill="#000" fill-opacity="0.9"/>
<circle cx="226.6" cy="295.7" r="1.45" fill="#000" fill-opacity="0.9"/>
<circle cx="228.9" cy="299.3" r="1.15" fill="#000" fill-opacity="0.3"/>
<circle cx="243.4" cy="303.6" r="1.45" fill="#000" fill-opacity="1"/>
<circle cx="215.9" cy="315.6" r="1.45" fill="#000" fill-opacity="1"/>
<circle cx="253.1" cy="323.7" r="1.15" fill="#000" fill-opacity="0.3"/>
<circle cx="222.0" cy="331.1" r="1.15" fill="#000" fill-opacity="0.3"/>
<circle cx="102.1" cy="336.0" r="1.15" fill="#000" fill-opacity="0.3"/>
<circle cx="126.5" cy="339.0" r="1.45" fill="#000" fill-opacity="0.8"/>
<circle cx="135.9" cy="338.1" r="1.45" fill="#000" fill-opacity="0.8"/>
<circle cx="146.1" cy="343.4" r="1.15" fill="#000" fill-opacity="0.3"/>
<circle cx="95.5" cy="360.7" r="1.3" fill="#000" fill-opacity="0.6"/>
<circle cx="62.8" cy="389.6" r="1.3" fill="#000" fill-opacity="0.5"/>
<circle cx="171.0" cy="350.2" r="1.15" fill="#000" fill-opacity="0.3"/>
<circle cx="172.7" cy="353.6" r="1.3" fill="#000" fill-opacity="0.6"/>
<circle cx="209.0" cy="346.6" r="1.45" fill="#000" fill-opacity="0.8"/>
<circle cx="226.7" cy="344.7" r="1.3" fill="#000" fill-opacity="0.6"/>
<circle cx="290.5" cy="338.6" r="1.45" fill="#000" fill-opacity="1"/>
<circle cx="206.3" cy="373.2" r="1.45" fill="#000" fill-opacity="1"/>
<circle cx="285.2" cy="368.5" r="1.45" fill="#000" fill-opacity="1"/>
<circle cx="262.4" cy="388.5" r="1.45" fill="#000" fill-opacity="1"/>
<circle cx="280.1" cy="385.1" r="1.15" fill="#000" fill-opacity="0.3"/>
<circle cx="206.7" cy="393.6" r="1.15" fill="#000" fill-opacity="0.3"/>
<circle cx="250.9" cy="395.3" r="1.15" fill="#000" fill-opacity="0.3"/>
<circle cx="55.2" cy="193.3" r="1.26" fill="#000" fill-opacity="1"/>
<circle cx="56.2" cy="194.7" r="1.59" fill="#000" fill-opacity="1"/>
<circle cx="57.5" cy="195.9" r="1.64" fill="#000" fill-opacity="1"/>
<circle cx="59.0" cy="196.8" r="1.62" fill="#000" fill-opacity="1"/>
<circle cx="60.1" cy="198.2" r="1.47" fill="#000" fill-opacity="1"/>
<circle cx="62.3" cy="200.0" r="1.33" fill="#000" fill-opacity="1"/>
<circle cx="63.7" cy="201.5" r="1.54" fill="#000" fill-opacity="1"/>
<circle cx="65.0" cy="202.8" r="1.35" fill="#000" fill-opacity="1"/>
<circle cx="66.6" cy="204.3" r="1.59" fill="#000" fill-opacity="1"/>
<circle cx="68.9" cy="206.3" r="1.44" fill="#000" fill-opacity="1"/>
<circle cx="70.2" cy="206.9" r="1.46" fill="#000" fill-opacity="1"/>
<circle cx="71.2" cy="208.1" r="1.53" fill="#000" fill-opacity="1"/>
<circle cx="73.9" cy="210.3" r="1.57" fill="#000" fill-opacity="1"/>
<circle cx="75.3" cy="212.1" r="1.38" fill="#000" fill-opacity="1"/>
<circle cx="76.1" cy="212.9" r="1.59" fill="#000" fill-opacity="1"/>
<circle cx="77.3" cy="213.5" r="1.47" fill="#000" fill-opacity="1"/>
<circle cx="78.0" cy="214.6" r="1.63" fill="#000" fill-opacity="1"/>
<circle cx="79.3" cy="215.7" r="1.43" fill="#000" fill-opacity="1"/>
<circle cx="80.9" cy="217.2" r="1.53" fill="#000" fill-opacity="1"/>
<circle cx="82.0" cy="218.3" r="1.37" fill="#000" fill-opacity="1"/>
<circle cx="83.0" cy="218.9" r="1.29" fill="#000" fill-opacity="1"/>
<circle cx="84.2" cy="219.6" r="1.58" fill="#000" fill-opacity="1"/>
<circle cx="85.4" cy="220.9" r="1.39" fill="#000" fill-opacity="1"/>
<circle cx="86.3" cy="221.9" r="1.46" fill="#000" fill-opacity="1"/>
<circle cx="87.2" cy="222.5" r="1.38" fill="#000" fill-opacity="1"/>
<circle cx="87.8" cy="223.2" r="1.62" fill="#000" fill-opacity="1"/>
<circle cx="89.2" cy="224.8" r="1.62" fill="#000" fill-opacity="1"/>
<circle cx="91.1" cy="225.9" r="1.46" fill="#000" fill-opacity="1"/>
<circle cx="92.0" cy="227.3" r="1.53" fill="#000" fill-opacity="1"/>
<circle cx="93.4" cy="228.6" r="1.51" fill="#000" fill-opacity="1"/>
<circle cx="94.4" cy="229.6" r="1.46" fill="#000" fill-opacity="1"/>
<circle cx="95.3" cy="230.2" r="1.48" fill="#000" fill-opacity="1"/>
<circle cx="97.0" cy="231.5" r="1.54" fill="#000" fill-opacity="1"/>
<circle cx="97.9" cy="232.4" r="1.4" fill="#000" fill-opacity="1"/>
<circle cx="289.6" cy="148.8" r="1.15" fill="#000" fill-opacity="0.3"/>
<circle cx="46.4" cy="202.2" r="1.60" fill="#000"/>
<circle cx="47.4" cy="203.0" r="1.74" fill="#000"/>
<circle cx="48.2" cy="203.7" r="1.73" fill="#000"/>
<circle cx="48.6" cy="204.3" r="1.57" fill="#000"/>
<circle cx="49.2" cy="204.9" r="1.84" fill="#000"/>
<circle cx="49.8" cy="205.3" r="1.77" fill="#000"/>
<circle cx="50.8" cy="206.5" r="1.69" fill="#000"/>
<circle cx="52.1" cy="207.4" r="1.85" fill="#000"/>
<circle cx="52.8" cy="208.1" r="1.59" fill="#000"/>
<circle cx="53.3" cy="209.1" r="1.61" fill="#000"/>
<circle cx="54.2" cy="209.8" r="1.68" fill="#000"/>
<circle cx="55.3" cy="210.5" r="1.57" fill="#000"/>
<circle cx="55.7" cy="211.3" r="1.70" fill="#000"/>
<circle cx="56.4" cy="211.9" r="1.71" fill="#000"/>
<circle cx="57.1" cy="212.7" r="1.79" fill="#000"/>
<circle cx="57.8" cy="213.2" r="1.73" fill="#000"/>
<circle cx="58.8" cy="214.3" r="1.65" fill="#000"/>
<circle cx="60.2" cy="215.2" r="1.70" fill="#000"/>
<circle cx="61.2" cy="216.2" r="1.72" fill="#000"/>
<circle cx="61.5" cy="216.9" r="1.82" fill="#000"/>
<circle cx="62.3" cy="217.8" r="1.66" fill="#000"/>
<circle cx="63.4" cy="218.6" r="1.75" fill="#000"/>
<circle cx="64.1" cy="219.5" r="1.88" fill="#000"/>
<circle cx="65.0" cy="220.2" r="1.57" fill="#000"/>
<circle cx="65.9" cy="221.1" r="1.90" fill="#000"/>
<circle cx="67.1" cy="222.0" r="1.69" fill="#000"/>
<circle cx="68.1" cy="222.8" r="1.71" fill="#000"/>
<circle cx="68.7" cy="223.4" r="1.57" fill="#000"/>
<circle cx="69.7" cy="224.3" r="1.64" fill="#000"/>
<circle cx="70.2" cy="225.3" r="1.58" fill="#000"/>
<circle cx="71.1" cy="226.0" r="1.86" fill="#000"/>
<circle cx="72.1" cy="227.1" r="1.65" fill="#000"/>
<circle cx="73.0" cy="227.7" r="1.86" fill="#000"/>
<circle cx="74.2" cy="228.7" r="1.61" fill="#000"/>
<circle cx="74.8" cy="229.3" r="1.72" fill="#000"/>
<circle cx="75.7" cy="230.2" r="1.55" fill="#000"/>
<circle cx="76.5" cy="231.0" r="1.75" fill="#000"/>
<circle cx="77.5" cy="232.2" r="1.73" fill="#000"/>
<circle cx="78.4" cy="233.0" r="1.57" fill="#000"/>
<circle cx="79.4" cy="234.1" r="1.86" fill="#000"/>
<circle cx="80.6" cy="235.0" r="1.69" fill="#000"/>
<circle cx="81.1" cy="235.6" r="1.57" fill="#000"/>
<circle cx="81.8" cy="236.0" r="1.61" fill="#000"/>
<circle cx="82.6" cy="236.6" r="1.55" fill="#000"/>
<circle cx="83.1" cy="237.2" r="1.68" fill="#000"/>
<circle cx="83.4" cy="238.0" r="1.76" fill="#000"/>
<circle cx="84.2" cy="238.3" r="1.67" fill="#000"/>
<circle cx="85.0" cy="239.0" r="1.85" fill="#000"/>
<circle cx="86.0" cy="240.2" r="1.72" fill="#000"/>
<circle cx="86.7" cy="240.6" r="1.67" fill="#000"/>
<circle cx="87.2" cy="241.5" r="1.61" fill="#000"/>
<circle cx="87.6" cy="242.1" r="1.73" fill="#000"/>
<circle cx="88.4" cy="242.5" r="1.56" fill="#000"/>
<circle cx="89.1" cy="243.5" r="1.85" fill="#000"/>
<circle cx="90.3" cy="244.1" r="1.68" fill="#000"/>
<circle cx="90.7" cy="244.9" r="1.74" fill="#000"/>
<circle cx="91.9" cy="245.7" r="1.63" fill="#000"/>
<circle cx="92.7" cy="246.9" r="1.85" fill="#000"/>
<circle cx="93.8" cy="247.9" r="1.81" fill="#000"/>
<circle cx="94.5" cy="248.4" r="1.67" fill="#000"/>
<circle cx="95.2" cy="248.7" r="1.65" fill="#000"/>
<circle cx="95.7" cy="249.6" r="1.88" fill="#000"/>
<circle cx="96.4" cy="250.4" r="1.90" fill="#000"/>
<circle cx="97.7" cy="251.3" r="1.63" fill="#000"/>
<circle cx="98.4" cy="251.9" r="1.62" fill="#000"/>
<circle cx="99.1" cy="253.0" r="1.84" fill="#000"/>
<circle cx="100.0" cy="253.7" r="1.83" fill="#000"/>
<circle cx="100.5" cy="254.2" r="1.87" fill="#000"/>
<circle cx="101.5" cy="255.2" r="1.72" fill="#000"/>
<circle cx="102.1" cy="255.9" r="1.67" fill="#000"/>
<circle cx="103.1" cy="256.9" r="1.69" fill="#000"/>
<circle cx="103.9" cy="257.6" r="1.80" fill="#000"/>
<circle cx="104.8" cy="257.9" r="1.60" fill="#000"/>
<circle cx="105.6" cy="259.2" r="1.60" fill="#000"/>
<circle cx="106.6" cy="260.3" r="1.78" fill="#000"/>
<circle cx="107.5" cy="260.8" r="1.60" fill="#000"/>
<circle cx="107.9" cy="261.5" r="1.78" fill="#000"/>
<circle cx="108.7" cy="262.3" r="1.70" fill="#000"/>
<circle cx="109.8" cy="263.3" r="1.62" fill="#000"/>
<circle cx="110.7" cy="263.7" r="1.63" fill="#000"/>
<circle cx="111.6" cy="264.5" r="1.70" fill="#000"/>
<line x1="45.5" y1="201.4" x2="112.3" y2="265.4" stroke="#ff7f0e" stroke-width="1.9" stroke-linecap="square"/>
<circle cx="113.8" cy="201.0" r="1.67" fill="#000"/>
<circle cx="114.7" cy="201.6" r="1.87" fill="#000"/>
<circle cx="115.4" cy="202.5" r="1.73" fill="#000"/>
<circle cx="116.4" cy="203.2" r="1.56" fill="#000"/>
<circle cx="117.3" cy="203.8" r="1.55" fill="#000"/>
<circle cx="118.3" cy="204.8" r="1.72" fill="#000"/>
<circle cx="119.2" cy="205.9" r="1.66" fill="#000"/>
<circle cx="120.0" cy="206.7" r="1.82" fill="#000"/>
<circle cx="120.6" cy="207.2" r="1.64" fill="#000"/>
<circle cx="121.2" cy="208.0" r="1.73" fill="#000"/>
<circle cx="122.1" cy="208.8" r="1.87" fill="#000"/>
<circle cx="122.9" cy="209.5" r="1.73" fill="#000"/>
<circle cx="123.7" cy="210.3" r="1.71" fill="#000"/>
<circle cx="124.6" cy="211.1" r="1.88" fill="#000"/>
<circle cx="125.5" cy="212.1" r="1.88" fill="#000"/>
<circle cx="126.2" cy="212.7" r="1.88" fill="#000"/>
<circle cx="127.4" cy="213.5" r="1.59" fill="#000"/>
<circle cx="128.2" cy="214.3" r="1.63" fill="#000"/>
<circle cx="128.6" cy="215.0" r="1.82" fill="#000"/>
<circle cx="129.9" cy="215.9" r="1.80" fill="#000"/>
<circle cx="130.8" cy="216.8" r="1.86" fill="#000"/>
<circle cx="131.9" cy="217.9" r="1.88" fill="#000"/>
<circle cx="132.6" cy="218.7" r="1.90" fill="#000"/>
<circle cx="133.7" cy="219.6" r="1.70" fill="#000"/>
<circle cx="134.5" cy="220.5" r="1.62" fill="#000"/>
<circle cx="135.1" cy="221.3" r="1.56" fill="#000"/>
<circle cx="136.0" cy="222.0" r="1.56" fill="#000"/>
<circle cx="136.7" cy="222.8" r="1.73" fill="#000"/>
<circle cx="137.1" cy="223.4" r="1.83" fill="#000"/>
<circle cx="138.6" cy="224.2" r="1.64" fill="#000"/>
<circle cx="138.9" cy="225.0" r="1.64" fill="#000"/>
<circle cx="139.6" cy="225.4" r="1.87" fill="#000"/>
<circle cx="140.7" cy="226.3" r="1.60" fill="#000"/>
<circle cx="141.7" cy="227.5" r="1.80" fill="#000"/>
<circle cx="142.4" cy="227.9" r="1.79" fill="#000"/>
<circle cx="143.2" cy="228.6" r="1.88" fill="#000"/>
<circle cx="143.8" cy="229.8" r="1.58" fill="#000"/>
<circle cx="145.2" cy="230.5" r="1.85" fill="#000"/>
<circle cx="145.9" cy="231.4" r="1.74" fill="#000"/>
<circle cx="147.0" cy="232.4" r="1.60" fill="#000"/>
<circle cx="147.8" cy="233.2" r="1.59" fill="#000"/>
<circle cx="148.5" cy="233.7" r="1.62" fill="#000"/>
<circle cx="149.1" cy="234.5" r="1.82" fill="#000"/>
<circle cx="149.8" cy="235.3" r="1.61" fill="#000"/>
<circle cx="150.7" cy="235.8" r="1.64" fill="#000"/>
<circle cx="150.9" cy="236.5" r="1.74" fill="#000"/>
<circle cx="151.6" cy="237.0" r="1.88" fill="#000"/>
<circle cx="152.1" cy="237.7" r="1.70" fill="#000"/>
<circle cx="152.9" cy="238.5" r="1.69" fill="#000"/>
<circle cx="153.8" cy="239.3" r="1.89" fill="#000"/>
<circle cx="154.5" cy="240.0" r="1.80" fill="#000"/>
<circle cx="155.5" cy="240.7" r="1.67" fill="#000"/>
<circle cx="156.2" cy="241.2" r="1.57" fill="#000"/>
<circle cx="157.1" cy="242.2" r="1.61" fill="#000"/>
<circle cx="157.5" cy="242.9" r="1.85" fill="#000"/>
<circle cx="158.6" cy="243.6" r="1.63" fill="#000"/>
<circle cx="159.2" cy="244.3" r="1.61" fill="#000"/>
<circle cx="160.1" cy="245.0" r="1.89" fill="#000"/>
<circle cx="161.1" cy="246.2" r="1.64" fill="#000"/>
<circle cx="162.4" cy="247.2" r="1.67" fill="#000"/>
<circle cx="162.8" cy="247.7" r="1.72" fill="#000"/>
<circle cx="163.7" cy="248.5" r="1.73" fill="#000"/>
<circle cx="164.2" cy="249.0" r="1.58" fill="#000"/>
<circle cx="165.1" cy="249.6" r="1.56" fill="#000"/>
<circle cx="165.7" cy="250.4" r="1.75" fill="#000"/>
<circle cx="166.4" cy="251.4" r="1.78" fill="#000"/>
<circle cx="167.3" cy="252.4" r="1.69" fill="#000"/>
<circle cx="168.0" cy="253.1" r="1.60" fill="#000"/>
<circle cx="169.1" cy="253.9" r="1.57" fill="#000"/>
<circle cx="170.0" cy="255.0" r="1.77" fill="#000"/>
<circle cx="171.0" cy="255.9" r="1.60" fill="#000"/>
<circle cx="172.0" cy="256.6" r="1.84" fill="#000"/>
<circle cx="172.9" cy="257.7" r="1.75" fill="#000"/>
<circle cx="174.0" cy="258.7" r="1.79" fill="#000"/>
<circle cx="174.9" cy="259.1" r="1.60" fill="#000"/>
<circle cx="175.6" cy="259.8" r="1.84" fill="#000"/>
<circle cx="176.3" cy="260.9" r="1.77" fill="#000"/>
<circle cx="177.3" cy="261.7" r="1.55" fill="#000"/>
<circle cx="178.2" cy="262.8" r="1.73" fill="#000"/>
<circle cx="179.1" cy="263.6" r="1.57" fill="#000"/>
<line x1="113.1" y1="200.0" x2="180.6" y2="264.9" stroke="#2ca02c" stroke-width="1.9" stroke-linecap="square"/>
<circle cx="186.7" cy="191.4" r="1.58" fill="#000"/>
<circle cx="187.2" cy="192.3" r="1.62" fill="#000"/>
<circle cx="188.1" cy="193.3" r="1.72" fill="#000"/>
<circle cx="189.0" cy="193.8" r="1.79" fill="#000"/>
<circle cx="190.0" cy="194.8" r="1.77" fill="#000"/>
<circle cx="190.7" cy="195.2" r="1.64" fill="#000"/>
<circle cx="191.6" cy="196.2" r="1.75" fill="#000"/>
<circle cx="192.2" cy="196.6" r="1.64" fill="#000"/>
<circle cx="193.0" cy="197.7" r="1.79" fill="#000"/>
<circle cx="193.7" cy="198.3" r="1.71" fill="#000"/>
<circle cx="194.7" cy="198.9" r="1.86" fill="#000"/>
<circle cx="195.0" cy="199.9" r="1.88" fill="#000"/>
<circle cx="195.7" cy="200.2" r="1.84" fill="#000"/>
<circle cx="196.9" cy="201.2" r="1.64" fill="#000"/>
<circle cx="197.3" cy="202.0" r="1.62" fill="#000"/>
<circle cx="198.5" cy="202.6" r="1.73" fill="#000"/>
<circle cx="199.6" cy="203.6" r="1.84" fill="#000"/>
<circle cx="200.2" cy="204.7" r="1.80" fill="#000"/>
<circle cx="200.9" cy="205.3" r="1.72" fill="#000"/>
<circle cx="201.7" cy="205.5" r="1.72" fill="#000"/>
<circle cx="202.4" cy="206.4" r="1.60" fill="#000"/>
<circle cx="203.1" cy="207.1" r="1.84" fill="#000"/>
<circle cx="203.5" cy="207.7" r="1.84" fill="#000"/>
<circle cx="204.0" cy="208.3" r="1.80" fill="#000"/>
<circle cx="205.3" cy="209.2" r="1.68" fill="#000"/>
<circle cx="205.8" cy="210.1" r="1.76" fill="#000"/>
<circle cx="206.8" cy="210.6" r="1.65" fill="#000"/>
<circle cx="207.4" cy="211.0" r="1.84" fill="#000"/>
<circle cx="207.8" cy="212.0" r="1.64" fill="#000"/>
<circle cx="208.7" cy="212.5" r="1.62" fill="#000"/>
<circle cx="209.3" cy="213.4" r="1.86" fill="#000"/>
<circle cx="210.4" cy="214.2" r="1.87" fill="#000"/>
<circle cx="211.6" cy="215.3" r="1.80" fill="#000"/>
<circle cx="212.0" cy="215.8" r="1.71" fill="#000"/>
<circle cx="213.1" cy="216.7" r="1.65" fill="#000"/>
<circle cx="213.5" cy="217.4" r="1.59" fill="#000"/>
<circle cx="214.5" cy="217.9" r="1.65" fill="#000"/>
<circle cx="215.3" cy="219.1" r="1.64" fill="#000"/>
<circle cx="216.5" cy="219.7" r="1.75" fill="#000"/>
<circle cx="217.3" cy="220.4" r="1.61" fill="#000"/>
<circle cx="217.7" cy="221.3" r="1.72" fill="#000"/>
<circle cx="218.3" cy="221.9" r="1.90" fill="#000"/>
<circle cx="219.4" cy="222.4" r="1.62" fill="#000"/>
<circle cx="219.9" cy="223.0" r="1.58" fill="#000"/>
<circle cx="220.6" cy="223.6" r="1.75" fill="#000"/>
<circle cx="221.5" cy="224.8" r="1.69" fill="#000"/>
<circle cx="222.4" cy="225.5" r="1.68" fill="#000"/>
<circle cx="223.3" cy="226.0" r="1.65" fill="#000"/>
<circle cx="224.4" cy="227.1" r="1.73" fill="#000"/>
<circle cx="225.0" cy="228.2" r="1.63" fill="#000"/>
<circle cx="225.9" cy="228.7" r="1.69" fill="#000"/>
<circle cx="226.5" cy="229.7" r="1.85" fill="#000"/>
<circle cx="227.9" cy="230.4" r="1.56" fill="#000"/>
<circle cx="228.6" cy="231.6" r="1.72" fill="#000"/>
<circle cx="229.8" cy="232.1" r="1.69" fill="#000"/>
<circle cx="230.6" cy="233.5" r="1.85" fill="#000"/>
<circle cx="231.9" cy="234.3" r="1.59" fill="#000"/>
<circle cx="232.4" cy="235.0" r="1.79" fill="#000"/>
<circle cx="233.5" cy="236.2" r="1.78" fill="#000"/>
<circle cx="234.6" cy="237.0" r="1.74" fill="#000"/>
<circle cx="235.0" cy="237.6" r="1.63" fill="#000"/>
<circle cx="236.2" cy="238.6" r="1.66" fill="#000"/>
<circle cx="236.9" cy="239.1" r="1.77" fill="#000"/>
<circle cx="237.9" cy="239.9" r="1.57" fill="#000"/>
<circle cx="238.6" cy="240.9" r="1.69" fill="#000"/>
<circle cx="239.3" cy="241.5" r="1.55" fill="#000"/>
<circle cx="240.0" cy="242.1" r="1.89" fill="#000"/>
<circle cx="240.8" cy="243.2" r="1.72" fill="#000"/>
<circle cx="241.7" cy="243.6" r="1.89" fill="#000"/>
<circle cx="242.6" cy="244.5" r="1.56" fill="#000"/>
<circle cx="243.3" cy="245.4" r="1.70" fill="#000"/>
<circle cx="244.0" cy="246.1" r="1.87" fill="#000"/>
<circle cx="244.9" cy="246.5" r="1.67" fill="#000"/>
<circle cx="245.4" cy="247.4" r="1.62" fill="#000"/>
<circle cx="246.4" cy="248.4" r="1.73" fill="#000"/>
<circle cx="247.0" cy="249.1" r="1.66" fill="#000"/>
<circle cx="248.3" cy="249.9" r="1.63" fill="#000"/>
<line x1="185.7" y1="190.7" x2="248.9" y2="250.6" stroke="#1f77b4" stroke-width="1.9" stroke-linecap="square"/>
<circle cx="249.8" cy="186.1" r="1.88" fill="#000"/>
<circle cx="250.7" cy="186.8" r="1.63" fill="#000"/>
<circle cx="251.3" cy="187.7" r="1.88" fill="#000"/>
<circle cx="252.0" cy="188.2" r="1.62" fill="#000"/>
<circle cx="253.2" cy="189.2" r="1.57" fill="#000"/>
<circle cx="253.7" cy="189.8" r="1.86" fill="#000"/>
<circle cx="254.7" cy="191.0" r="1.90" fill="#000"/>
<circle cx="255.9" cy="191.9" r="1.61" fill="#000"/>
<circle cx="256.9" cy="193.1" r="1.56" fill="#000"/>
<circle cx="257.9" cy="193.9" r="1.68" fill="#000"/>
<circle cx="258.7" cy="194.5" r="1.55" fill="#000"/>
<circle cx="259.4" cy="195.2" r="1.88" fill="#000"/>
<circle cx="259.7" cy="196.0" r="1.62" fill="#000"/>
<circle cx="260.5" cy="196.6" r="1.84" fill="#000"/>
<circle cx="261.6" cy="197.1" r="1.72" fill="#000"/>
<circle cx="262.0" cy="198.2" r="1.62" fill="#000"/>
<circle cx="262.8" cy="198.9" r="1.56" fill="#000"/>
<circle cx="263.6" cy="199.6" r="1.82" fill="#000"/>
<circle cx="264.4" cy="199.8" r="1.57" fill="#000"/>
<circle cx="265.4" cy="200.9" r="1.81" fill="#000"/>
<circle cx="266.5" cy="202.0" r="1.65" fill="#000"/>
<circle cx="267.5" cy="203.2" r="1.64" fill="#000"/>
<circle cx="268.6" cy="204.0" r="1.65" fill="#000"/>
<circle cx="268.9" cy="204.7" r="1.87" fill="#000"/>
<circle cx="269.8" cy="205.6" r="1.56" fill="#000"/>
<circle cx="270.6" cy="206.1" r="1.88" fill="#000"/>
<circle cx="271.8" cy="207.1" r="1.64" fill="#000"/>
<circle cx="272.5" cy="207.9" r="1.87" fill="#000"/>
<circle cx="273.0" cy="208.6" r="1.81" fill="#000"/>
<circle cx="274.1" cy="209.6" r="1.76" fill="#000"/>
<circle cx="274.9" cy="210.1" r="1.68" fill="#000"/>
<circle cx="276.0" cy="211.0" r="1.62" fill="#000"/>
<circle cx="277.0" cy="212.0" r="1.57" fill="#000"/>
<circle cx="277.4" cy="212.6" r="1.66" fill="#000"/>
<circle cx="278.4" cy="213.8" r="1.90" fill="#000"/>
<circle cx="279.4" cy="214.2" r="1.58" fill="#000"/>
<circle cx="280.0" cy="215.2" r="1.71" fill="#000"/>
<circle cx="280.8" cy="215.7" r="1.77" fill="#000"/>
<circle cx="281.6" cy="216.8" r="1.85" fill="#000"/>
<circle cx="282.7" cy="217.4" r="1.84" fill="#000"/>
<circle cx="283.3" cy="218.3" r="1.68" fill="#000"/>
<circle cx="284.4" cy="219.1" r="1.64" fill="#000"/>
<circle cx="285.1" cy="219.7" r="1.86" fill="#000"/>
<circle cx="285.9" cy="220.6" r="1.69" fill="#000"/>
<circle cx="287.0" cy="221.8" r="1.63" fill="#000"/>
<circle cx="288.0" cy="222.8" r="1.90" fill="#000"/>
<circle cx="288.6" cy="223.3" r="1.84" fill="#000"/>
<circle cx="289.5" cy="224.5" r="1.56" fill="#000"/>
<circle cx="290.5" cy="224.8" r="1.62" fill="#000"/>
<line x1="248.9" y1="185.3" x2="291.3" y2="225.9" stroke="#d62728" stroke-width="1.9" stroke-linecap="square"/>
</g>
<text x="82.6" y="233.5" fill="#ff1a1a" text-anchor="middle">2</text>
<text x="150.6" y="232.2" fill="#ff1a1a" text-anchor="middle">3</text>
<text x="220.9" y="221.1" fill="#ff1a1a" text-anchor="middle">1</text>
<text x="273.7" y="206.4" fill="#ff1a1a" text-anchor="middle">4</text>
<rect x="41.4" y="1.7" width="254.4" height="396.5" fill="none" stroke="#000" stroke-width="0.9"/>
<line x1="45.9" y1="398.2" x2="45.9" y2="401.8" stroke="#000" stroke-width="0.9"/>
<text x="46.3" y="415.5" text-anchor="middle">0</text>
<line x1="114.0" y1="398.2" x2="114.0" y2="401.8" stroke="#000" stroke-width="0.9"/>
<text x="114.4" y="415.5" text-anchor="middle">1</text>
<line x1="182.1" y1="398.2" x2="182.1" y2="401.8" stroke="#000" stroke-width="0.9"/>
<text x="182.5" y="415.5" text-anchor="middle">2</text>
<line x1="250.2" y1="398.2" x2="250.2" y2="401.8" stroke="#000" stroke-width="0.9"/>
<text x="250.6" y="415.5" text-anchor="middle">3</text>
<line x1="37.8" y1="369.4" x2="41.4" y2="369.4" stroke="#000" stroke-width="0.9"/>
<text x="34.1" y="373.1" text-anchor="end">−2</text>
<line x1="37.8" y1="290.5" x2="41.4" y2="290.5" stroke="#000" stroke-width="0.9"/>
<text x="34.1" y="294.2" text-anchor="end">0</text>
<line x1="37.8" y1="211.6" x2="41.4" y2="211.6" stroke="#000" stroke-width="0.9"/>
<text x="34.1" y="215.3" text-anchor="end">2</text>
<line x1="37.8" y1="132.7" x2="41.4" y2="132.7" stroke="#000" stroke-width="0.9"/>
<text x="34.1" y="136.4" text-anchor="end">4</text>
<line x1="37.8" y1="53.9" x2="41.4" y2="53.9" stroke="#000" stroke-width="0.9"/>
<text x="34.1" y="57.6" text-anchor="end">6</text>
<text x="168.6" y="430.3" text-anchor="middle">Time Since Study Start (hours)</text>
<text transform="translate(10.3,200.9) rotate(-90)" text-anchor="middle">Offset (seconds)</text>
<clipPath id="cB"><rect x="346.3" y="1.7" width="254.2" height="396.5"/></clipPath>
<g clip-path="url(#cB)">
<circle cx="425.6" cy="189.3" r="1.74" fill="#000" fill-opacity="1"/>
<circle cx="429.3" cy="193.5" r="1.74" fill="#000" fill-opacity="1"/>
<circle cx="396.5" cy="208.8" r="1.74" fill="#000" fill-opacity="1"/>
<circle cx="386.0" cy="216.3" r="1.91" fill="#000" fill-opacity="1"/>
<circle cx="387.3" cy="217.7" r="1.74" fill="#000" fill-opacity="1"/>
<circle cx="387.9" cy="218.4" r="1.68" fill="#000" fill-opacity="1"/>
<circle cx="392.8" cy="223.3" r="1.74" fill="#000" fill-opacity="1"/>
<circle cx="398.1" cy="228.4" r="1.88" fill="#000" fill-opacity="1"/>
<circle cx="399.1" cy="228.8" r="1.9" fill="#000" fill-opacity="1"/>
<circle cx="399.9" cy="230.1" r="1.5" fill="#000" fill-opacity="1"/>
<circle cx="401.0" cy="231.1" r="1.61" fill="#000" fill-opacity="1"/>
<circle cx="401.9" cy="231.6" r="1.68" fill="#000" fill-opacity="1"/>
<circle cx="363.5" cy="230.9" r="1.51" fill="#000" fill-opacity="1"/>
<circle cx="364.3" cy="231.4" r="1.95" fill="#000" fill-opacity="1"/>
<circle cx="365.3" cy="232.4" r="1.7" fill="#000" fill-opacity="1"/>
<circle cx="365.9" cy="233.1" r="1.71" fill="#000" fill-opacity="1"/>
<circle cx="365.8" cy="233.3" r="1.68" fill="#000" fill-opacity="1"/>
<circle cx="394.9" cy="261.4" r="1.74" fill="#000" fill-opacity="1"/>
<circle cx="397.7" cy="264.4" r="1.74" fill="#000" fill-opacity="1"/>
<circle cx="443.0" cy="207.0" r="1.74" fill="#000" fill-opacity="1"/>
<circle cx="448.1" cy="210.9" r="1.74" fill="#000" fill-opacity="1"/>
<circle cx="444.3" cy="242.2" r="1.61" fill="#000" fill-opacity="1"/>
<circle cx="445.0" cy="243.2" r="1.64" fill="#000" fill-opacity="1"/>
<circle cx="445.4" cy="244.0" r="1.77" fill="#000" fill-opacity="1"/>
<circle cx="446.9" cy="245.1" r="1.98" fill="#000" fill-opacity="1"/>
<circle cx="447.4" cy="246.0" r="1.68" fill="#000" fill-opacity="1"/>
<circle cx="429.3" cy="246.3" r="1.74" fill="#000" fill-opacity="1"/>
<circle cx="448.4" cy="264.9" r="1.74" fill="#000" fill-opacity="1"/>
<circle cx="472.8" cy="271.2" r="1.74" fill="#000" fill-opacity="1"/>
<circle cx="491.6" cy="173.0" r="1.66" fill="#000" fill-opacity="1"/>
<circle cx="492.6" cy="174.6" r="1.95" fill="#000" fill-opacity="1"/>
<circle cx="493.5" cy="175.8" r="1.82" fill="#000" fill-opacity="1"/>
<circle cx="494.4" cy="176.6" r="1.92" fill="#000" fill-opacity="1"/>
<circle cx="494.8" cy="177.0" r="1.68" fill="#000" fill-opacity="1"/>
<circle cx="485.7" cy="181.3" r="1.78" fill="#000" fill-opacity="1"/>
<circle cx="486.5" cy="181.8" r="1.88" fill="#000" fill-opacity="1"/>
<circle cx="487.5" cy="182.8" r="1.76" fill="#000" fill-opacity="1"/>
<circle cx="488.6" cy="184.3" r="1.68" fill="#000" fill-opacity="1"/>
<circle cx="488.9" cy="184.5" r="1.68" fill="#000" fill-opacity="1"/>
<circle cx="508.0" cy="188.7" r="1.74" fill="#000" fill-opacity="1"/>
<circle cx="486.3" cy="200.0" r="1.87" fill="#000" fill-opacity="1"/>
<circle cx="487.5" cy="201.0" r="1.74" fill="#000" fill-opacity="1"/>
<circle cx="488.3" cy="201.6" r="1.84" fill="#000" fill-opacity="1"/>
<circle cx="489.6" cy="203.3" r="1.69" fill="#000" fill-opacity="1"/>
<circle cx="489.9" cy="203.6" r="1.68" fill="#000" fill-opacity="1"/>
<circle cx="521.4" cy="201.3" r="1.74" fill="#000" fill-opacity="1"/>
<circle cx="511.4" cy="228.7" r="1.74" fill="#000" fill-opacity="1"/>
<circle cx="521.0" cy="239.1" r="1.74" fill="#000" fill-opacity="1"/>
<circle cx="351.3" cy="202.2" r="1.75" fill="#000"/>
<circle cx="352.4" cy="203.3" r="1.73" fill="#000"/>
<circle cx="353.4" cy="204.0" r="1.73" fill="#000"/>
<circle cx="354.1" cy="205.1" r="1.58" fill="#000"/>
<circle cx="355.0" cy="205.5" r="1.83" fill="#000"/>
<circle cx="356.0" cy="206.4" r="1.89" fill="#000"/>
<circle cx="356.9" cy="207.7" r="1.77" fill="#000"/>
<circle cx="357.7" cy="208.1" r="1.73" fill="#000"/>
<circle cx="358.2" cy="208.7" r="1.63" fill="#000"/>
<circle cx="358.7" cy="209.3" r="1.70" fill="#000"/>
<circle cx="359.7" cy="210.3" r="1.77" fill="#000"/>
<circle cx="360.5" cy="211.2" r="1.71" fill="#000"/>
<circle cx="361.0" cy="211.9" r="1.90" fill="#000"/>
<circle cx="362.2" cy="212.8" r="1.66" fill="#000"/>
<circle cx="363.0" cy="213.3" r="1.57" fill="#000"/>
<circle cx="364.0" cy="214.3" r="1.85" fill="#000"/>
<circle cx="364.5" cy="215.2" r="1.85" fill="#000"/>
<circle cx="365.3" cy="215.5" r="1.87" fill="#000"/>
<circle cx="365.8" cy="216.5" r="1.69" fill="#000"/>
<circle cx="366.5" cy="216.9" r="1.82" fill="#000"/>
<circle cx="367.4" cy="217.4" r="1.67" fill="#000"/>
<circle cx="368.3" cy="218.7" r="1.59" fill="#000"/>
<circle cx="369.2" cy="219.1" r="1.57" fill="#000"/>
<circle cx="370.2" cy="220.1" r="1.75" fill="#000"/>
<circle cx="371.0" cy="220.9" r="1.81" fill="#000"/>
<circle cx="371.4" cy="221.6" r="1.59" fill="#000"/>
<circle cx="372.3" cy="222.2" r="1.64" fill="#000"/>
<circle cx="373.2" cy="223.5" r="1.66" fill="#000"/>
<circle cx="374.5" cy="224.3" r="1.69" fill="#000"/>
<circle cx="375.4" cy="225.5" r="1.59" fill="#000"/>
<circle cx="376.7" cy="226.4" r="1.64" fill="#000"/>
<circle cx="377.7" cy="227.4" r="1.65" fill="#000"/>
<circle cx="378.3" cy="227.9" r="1.75" fill="#000"/>
<circle cx="378.8" cy="228.7" r="1.68" fill="#000"/>
<circle cx="379.5" cy="229.6" r="1.72" fill="#000"/>
<circle cx="380.4" cy="230.4" r="1.61" fill="#000"/>
<circle cx="381.0" cy="231.0" r="1.84" fill="#000"/>
<circle cx="381.9" cy="231.4" r="1.81" fill="#000"/>
<circle cx="383.0" cy="232.5" r="1.88" fill="#000"/>
<circle cx="384.0" cy="233.6" r="1.70" fill="#000"/>
<circle cx="384.7" cy="234.0" r="1.89" fill="#000"/>
<circle cx="385.2" cy="234.9" r="1.64" fill="#000"/>
<circle cx="386.3" cy="235.8" r="1.65" fill="#000"/>
<circle cx="386.8" cy="236.5" r="1.57" fill="#000"/>
<circle cx="387.5" cy="237.0" r="1.85" fill="#000"/>
<circle cx="388.5" cy="237.8" r="1.87" fill="#000"/>
<circle cx="389.3" cy="238.3" r="1.64" fill="#000"/>
<circle cx="390.1" cy="239.1" r="1.61" fill="#000"/>
<circle cx="390.6" cy="240.0" r="1.60" fill="#000"/>
<circle cx="391.2" cy="240.8" r="1.89" fill="#000"/>
<circle cx="392.3" cy="241.6" r="1.75" fill="#000"/>
<circle cx="393.1" cy="242.0" r="1.56" fill="#000"/>
<circle cx="393.9" cy="243.3" r="1.89" fill="#000"/>
<circle cx="394.5" cy="243.7" r="1.72" fill="#000"/>
<circle cx="395.6" cy="244.6" r="1.90" fill="#000"/>
<circle cx="396.0" cy="245.2" r="1.81" fill="#000"/>
<circle cx="397.1" cy="246.3" r="1.80" fill="#000"/>
<circle cx="398.0" cy="247.3" r="1.67" fill="#000"/>
<circle cx="399.0" cy="248.2" r="1.85" fill="#000"/>
<circle cx="399.8" cy="248.9" r="1.85" fill="#000"/>
<circle cx="400.7" cy="249.7" r="1.68" fill="#000"/>
<circle cx="401.6" cy="250.6" r="1.58" fill="#000"/>
<circle cx="402.4" cy="251.6" r="1.86" fill="#000"/>
<circle cx="403.6" cy="252.3" r="1.81" fill="#000"/>
<circle cx="404.5" cy="253.2" r="1.84" fill="#000"/>
<circle cx="404.9" cy="253.8" r="1.56" fill="#000"/>
<circle cx="405.9" cy="254.6" r="1.63" fill="#000"/>
<circle cx="406.9" cy="255.5" r="1.77" fill="#000"/>
<circle cx="408.1" cy="256.5" r="1.55" fill="#000"/>
<circle cx="408.6" cy="257.3" r="1.62" fill="#000"/>
<circle cx="409.1" cy="258.0" r="1.78" fill="#000"/>
<circle cx="409.9" cy="258.7" r="1.66" fill="#000"/>
<circle cx="411.1" cy="259.4" r="1.70" fill="#000"/>
<circle cx="411.9" cy="260.6" r="1.86" fill="#000"/>
<circle cx="412.8" cy="261.2" r="1.66" fill="#000"/>
<circle cx="413.4" cy="261.8" r="1.84" fill="#000"/>
<circle cx="414.4" cy="262.8" r="1.88" fill="#000"/>
<circle cx="415.2" cy="263.3" r="1.71" fill="#000"/>
<circle cx="415.9" cy="264.0" r="1.69" fill="#000"/>
<line x1="350.4" y1="201.4" x2="417.2" y2="265.4" stroke="#ff7f0e" stroke-width="1.9" stroke-linecap="square"/>
<circle cx="418.9" cy="200.8" r="1.66" fill="#000"/>
<circle cx="419.7" cy="202.0" r="1.71" fill="#000"/>
<circle cx="420.6" cy="202.2" r="1.86" fill="#000"/>
<circle cx="420.9" cy="203.0" r="1.75" fill="#000"/>
<circle cx="421.6" cy="203.7" r="1.56" fill="#000"/>
<circle cx="422.3" cy="204.1" r="1.56" fill="#000"/>
<circle cx="423.4" cy="205.0" r="1.60" fill="#000"/>
<circle cx="423.8" cy="205.7" r="1.71" fill="#000"/>
<circle cx="424.7" cy="206.6" r="1.83" fill="#000"/>
<circle cx="425.9" cy="207.7" r="1.62" fill="#000"/>
<circle cx="426.8" cy="208.3" r="1.55" fill="#000"/>
<circle cx="427.5" cy="209.2" r="1.61" fill="#000"/>
<circle cx="428.3" cy="209.8" r="1.79" fill="#000"/>
<circle cx="429.0" cy="210.7" r="1.81" fill="#000"/>
<circle cx="429.7" cy="211.5" r="1.87" fill="#000"/>
<circle cx="430.2" cy="212.1" r="1.80" fill="#000"/>
<circle cx="431.0" cy="212.5" r="1.77" fill="#000"/>
<circle cx="432.1" cy="213.5" r="1.75" fill="#000"/>
<circle cx="433.0" cy="214.7" r="1.88" fill="#000"/>
<circle cx="433.9" cy="215.4" r="1.62" fill="#000"/>
<circle cx="434.8" cy="216.4" r="1.77" fill="#000"/>
<circle cx="436.0" cy="217.1" r="1.86" fill="#000"/>
<circle cx="436.9" cy="218.5" r="1.74" fill="#000"/>
<circle cx="438.1" cy="219.2" r="1.87" fill="#000"/>
<circle cx="439.2" cy="220.2" r="1.58" fill="#000"/>
<circle cx="439.9" cy="221.1" r="1.82" fill="#000"/>
<circle cx="440.9" cy="221.7" r="1.83" fill="#000"/>
<circle cx="441.2" cy="222.5" r="1.61" fill="#000"/>
<circle cx="441.9" cy="223.2" r="1.60" fill="#000"/>
<circle cx="442.6" cy="223.6" r="1.80" fill="#000"/>
<circle cx="443.6" cy="224.7" r="1.88" fill="#000"/>
<circle cx="444.3" cy="225.6" r="1.58" fill="#000"/>
<circle cx="445.1" cy="226.1" r="1.65" fill="#000"/>
<circle cx="446.0" cy="227.1" r="1.73" fill="#000"/>
<circle cx="447.1" cy="228.0" r="1.66" fill="#000"/>
<circle cx="447.8" cy="228.9" r="1.87" fill="#000"/>
<circle cx="448.4" cy="229.5" r="1.89" fill="#000"/>
<circle cx="449.4" cy="230.2" r="1.62" fill="#000"/>
<circle cx="450.2" cy="231.0" r="1.76" fill="#000"/>
<circle cx="450.6" cy="231.7" r="1.73" fill="#000"/>
<circle cx="451.4" cy="232.3" r="1.75" fill="#000"/>
<circle cx="452.3" cy="233.1" r="1.57" fill="#000"/>
<circle cx="453.2" cy="233.8" r="1.88" fill="#000"/>
<circle cx="454.4" cy="234.8" r="1.72" fill="#000"/>
<circle cx="454.9" cy="235.4" r="1.84" fill="#000"/>
<circle cx="456.0" cy="236.5" r="1.66" fill="#000"/>
<circle cx="456.6" cy="237.2" r="1.87" fill="#000"/>
<circle cx="457.1" cy="237.8" r="1.56" fill="#000"/>
<circle cx="457.9" cy="238.2" r="1.79" fill="#000"/>
<circle cx="458.6" cy="238.9" r="1.77" fill="#000"/>
<circle cx="459.0" cy="239.6" r="1.59" fill="#000"/>
<circle cx="460.0" cy="240.2" r="1.62" fill="#000"/>
<circle cx="460.8" cy="241.1" r="1.68" fill="#000"/>
<circle cx="461.6" cy="241.9" r="1.61" fill="#000"/>
<circle cx="462.2" cy="242.5" r="1.77" fill="#000"/>
<circle cx="462.9" cy="243.4" r="1.76" fill="#000"/>
<circle cx="464.2" cy="244.2" r="1.81" fill="#000"/>
<circle cx="465.0" cy="245.5" r="1.66" fill="#000"/>
<circle cx="465.7" cy="246.2" r="1.63" fill="#000"/>
<circle cx="466.9" cy="247.3" r="1.60" fill="#000"/>
<circle cx="467.6" cy="247.8" r="1.64" fill="#000"/>
<circle cx="468.1" cy="248.4" r="1.70" fill="#000"/>
<circle cx="469.4" cy="249.1" r="1.69" fill="#000"/>
<circle cx="470.4" cy="250.0" r="1.62" fill="#000"/>
<circle cx="471.0" cy="251.2" r="1.89" fill="#000"/>
<circle cx="471.7" cy="251.7" r="1.82" fill="#000"/>
<circle cx="472.5" cy="252.5" r="1.62" fill="#000"/>
<circle cx="473.2" cy="252.8" r="1.56" fill="#000"/>
<circle cx="474.0" cy="253.8" r="1.75" fill="#000"/>
<circle cx="474.7" cy="254.3" r="1.62" fill="#000"/>
<circle cx="475.4" cy="255.6" r="1.87" fill="#000"/>
<circle cx="476.3" cy="255.8" r="1.88" fill="#000"/>
<circle cx="476.9" cy="256.8" r="1.66" fill="#000"/>
<circle cx="477.8" cy="257.5" r="1.70" fill="#000"/>
<circle cx="478.9" cy="258.2" r="1.80" fill="#000"/>
<circle cx="479.9" cy="259.2" r="1.71" fill="#000"/>
<circle cx="480.8" cy="260.3" r="1.62" fill="#000"/>
<circle cx="481.3" cy="260.9" r="1.56" fill="#000"/>
<circle cx="482.3" cy="262.0" r="1.80" fill="#000"/>
<circle cx="483.4" cy="263.0" r="1.69" fill="#000"/>
<circle cx="484.4" cy="263.8" r="1.89" fill="#000"/>
<line x1="418.0" y1="200.0" x2="485.5" y2="264.9" stroke="#2ca02c" stroke-width="1.9" stroke-linecap="square"/>
<circle cx="491.6" cy="191.4" r="1.87" fill="#000"/>
<circle cx="492.4" cy="192.6" r="1.84" fill="#000"/>
<circle cx="493.1" cy="193.3" r="1.86" fill="#000"/>
<circle cx="494.1" cy="194.2" r="1.82" fill="#000"/>
<circle cx="494.9" cy="194.9" r="1.57" fill="#000"/>
<circle cx="495.7" cy="195.5" r="1.55" fill="#000"/>
<circle cx="496.4" cy="196.3" r="1.77" fill="#000"/>
<circle cx="497.0" cy="197.0" r="1.78" fill="#000"/>
<circle cx="497.8" cy="197.6" r="1.75" fill="#000"/>
<circle cx="498.7" cy="198.3" r="1.90" fill="#000"/>
<circle cx="499.5" cy="199.3" r="1.82" fill="#000"/>
<circle cx="500.9" cy="200.2" r="1.77" fill="#000"/>
<circle cx="501.8" cy="201.2" r="1.69" fill="#000"/>
<circle cx="502.4" cy="201.7" r="1.68" fill="#000"/>
<circle cx="503.0" cy="202.2" r="1.87" fill="#000"/>
<circle cx="503.7" cy="203.2" r="1.89" fill="#000"/>
<circle cx="504.4" cy="204.2" r="1.77" fill="#000"/>
<circle cx="505.8" cy="204.8" r="1.76" fill="#000"/>
<circle cx="506.8" cy="205.8" r="1.88" fill="#000"/>
<circle cx="507.3" cy="206.5" r="1.61" fill="#000"/>
<circle cx="508.1" cy="207.3" r="1.57" fill="#000"/>
<circle cx="509.3" cy="208.3" r="1.73" fill="#000"/>
<circle cx="510.2" cy="209.2" r="1.65" fill="#000"/>
<circle cx="511.0" cy="210.1" r="1.65" fill="#000"/>
<circle cx="512.1" cy="210.9" r="1.55" fill="#000"/>
<circle cx="512.9" cy="211.5" r="1.60" fill="#000"/>
<circle cx="513.7" cy="212.6" r="1.86" fill="#000"/>
<circle cx="514.9" cy="213.4" r="1.90" fill="#000"/>
<circle cx="516.0" cy="214.5" r="1.87" fill="#000"/>
<circle cx="516.6" cy="215.4" r="1.89" fill="#000"/>
<circle cx="517.3" cy="216.0" r="1.88" fill="#000"/>
<circle cx="518.3" cy="216.9" r="1.89" fill="#000"/>
<circle cx="519.3" cy="217.9" r="1.59" fill="#000"/>
<circle cx="520.2" cy="218.8" r="1.62" fill="#000"/>
<circle cx="520.8" cy="219.3" r="1.59" fill="#000"/>
<circle cx="521.5" cy="220.1" r="1.71" fill="#000"/>
<circle cx="522.2" cy="220.7" r="1.70" fill="#000"/>
<circle cx="523.2" cy="221.7" r="1.90" fill="#000"/>
<circle cx="524.3" cy="222.8" r="1.63" fill="#000"/>
<circle cx="524.8" cy="223.4" r="1.82" fill="#000"/>
<circle cx="525.9" cy="224.1" r="1.65" fill="#000"/>
<circle cx="526.8" cy="225.1" r="1.76" fill="#000"/>
<circle cx="527.7" cy="226.0" r="1.62" fill="#000"/>
<circle cx="528.3" cy="226.7" r="1.87" fill="#000"/>
<circle cx="529.7" cy="227.4" r="1.57" fill="#000"/>
<circle cx="530.2" cy="228.2" r="1.77" fill="#000"/>
<circle cx="530.8" cy="228.8" r="1.58" fill="#000"/>
<circle cx="531.3" cy="229.4" r="1.74" fill="#000"/>
<circle cx="532.3" cy="230.1" r="1.72" fill="#000"/>
<circle cx="533.0" cy="230.7" r="1.81" fill="#000"/>
<circle cx="534.1" cy="231.6" r="1.59" fill="#000"/>
<circle cx="535.0" cy="232.8" r="1.82" fill="#000"/>
<circle cx="535.7" cy="233.4" r="1.64" fill="#000"/>
<circle cx="536.7" cy="234.3" r="1.78" fill="#000"/>
<circle cx="537.9" cy="235.4" r="1.74" fill="#000"/>
<circle cx="538.7" cy="236.6" r="1.70" fill="#000"/>
<circle cx="539.7" cy="237.0" r="1.86" fill="#000"/>
<circle cx="540.3" cy="237.5" r="1.75" fill="#000"/>
<circle cx="540.9" cy="238.5" r="1.65" fill="#000"/>
<circle cx="542.1" cy="239.2" r="1.62" fill="#000"/>
<circle cx="543.1" cy="240.1" r="1.66" fill="#000"/>
<circle cx="543.8" cy="241.3" r="1.65" fill="#000"/>
<circle cx="544.6" cy="241.7" r="1.80" fill="#000"/>
<circle cx="545.4" cy="242.4" r="1.80" fill="#000"/>
<circle cx="546.0" cy="243.5" r="1.88" fill="#000"/>
<circle cx="547.3" cy="244.4" r="1.83" fill="#000"/>
<circle cx="548.0" cy="245.0" r="1.69" fill="#000"/>
<circle cx="548.9" cy="246.3" r="1.64" fill="#000"/>
<circle cx="549.9" cy="246.8" r="1.68" fill="#000"/>
<circle cx="550.6" cy="247.5" r="1.62" fill="#000"/>
<circle cx="551.3" cy="248.5" r="1.74" fill="#000"/>
<circle cx="552.5" cy="249.4" r="1.61" fill="#000"/>
<line x1="490.6" y1="190.7" x2="553.8" y2="250.6" stroke="#1f77b4" stroke-width="1.9" stroke-linecap="square"/>
<circle cx="554.5" cy="186.3" r="1.65" fill="#000"/>
<circle cx="555.2" cy="186.6" r="1.74" fill="#000"/>
<circle cx="555.9" cy="187.6" r="1.78" fill="#000"/>
<circle cx="557.2" cy="188.3" r="1.74" fill="#000"/>
<circle cx="558.3" cy="189.3" r="1.58" fill="#000"/>
<circle cx="559.0" cy="190.5" r="1.58" fill="#000"/>
<circle cx="560.1" cy="191.1" r="1.81" fill="#000"/>
<circle cx="561.0" cy="192.0" r="1.63" fill="#000"/>
<circle cx="561.9" cy="193.1" r="1.82" fill="#000"/>
<circle cx="562.8" cy="193.8" r="1.89" fill="#000"/>
<circle cx="563.6" cy="194.7" r="1.74" fill="#000"/>
<circle cx="564.5" cy="195.7" r="1.87" fill="#000"/>
<circle cx="565.3" cy="196.5" r="1.78" fill="#000"/>
<circle cx="566.3" cy="197.5" r="1.84" fill="#000"/>
<circle cx="567.4" cy="198.6" r="1.77" fill="#000"/>
<circle cx="568.3" cy="199.3" r="1.83" fill="#000"/>
<circle cx="569.2" cy="200.0" r="1.60" fill="#000"/>
<circle cx="570.0" cy="201.1" r="1.68" fill="#000"/>
<circle cx="570.9" cy="201.4" r="1.70" fill="#000"/>
<circle cx="571.3" cy="202.4" r="1.57" fill="#000"/>
<circle cx="572.3" cy="202.7" r="1.78" fill="#000"/>
<circle cx="573.3" cy="203.7" r="1.57" fill="#000"/>
<circle cx="573.9" cy="204.7" r="1.87" fill="#000"/>
<circle cx="574.6" cy="205.0" r="1.61" fill="#000"/>
<circle cx="575.2" cy="205.7" r="1.80" fill="#000"/>
<circle cx="576.1" cy="206.5" r="1.61" fill="#000"/>
<circle cx="576.8" cy="207.1" r="1.82" fill="#000"/>
<circle cx="577.4" cy="208.0" r="1.84" fill="#000"/>
<circle cx="578.3" cy="208.6" r="1.86" fill="#000"/>
<circle cx="579.4" cy="209.7" r="1.74" fill="#000"/>
<circle cx="580.5" cy="210.8" r="1.63" fill="#000"/>
<circle cx="580.9" cy="211.5" r="1.83" fill="#000"/>
<circle cx="581.8" cy="212.1" r="1.73" fill="#000"/>
<circle cx="582.3" cy="212.9" r="1.78" fill="#000"/>
<circle cx="583.3" cy="213.2" r="1.72" fill="#000"/>
<circle cx="583.8" cy="214.2" r="1.80" fill="#000"/>
<circle cx="584.9" cy="214.8" r="1.60" fill="#000"/>
<circle cx="585.6" cy="215.6" r="1.85" fill="#000"/>
<circle cx="586.3" cy="216.5" r="1.90" fill="#000"/>
<circle cx="587.0" cy="217.1" r="1.60" fill="#000"/>
<circle cx="588.2" cy="217.9" r="1.84" fill="#000"/>
<circle cx="589.0" cy="219.2" r="1.58" fill="#000"/>
<circle cx="589.7" cy="219.8" r="1.58" fill="#000"/>
<circle cx="590.6" cy="220.5" r="1.88" fill="#000"/>
<circle cx="591.3" cy="221.5" r="1.66" fill="#000"/>
<circle cx="592.5" cy="222.3" r="1.87" fill="#000"/>
<circle cx="592.9" cy="223.0" r="1.62" fill="#000"/>
<circle cx="593.9" cy="223.7" r="1.61" fill="#000"/>
<circle cx="595.0" cy="224.6" r="1.66" fill="#000"/>
<circle cx="595.6" cy="225.2" r="1.71" fill="#000"/>
<line x1="553.8" y1="185.3" x2="596.2" y2="225.9" stroke="#d62728" stroke-width="1.9" stroke-linecap="square"/>
</g>
<text x="387.5" y="233.5" fill="#ff1a1a" text-anchor="middle">2</text>
<text x="455.5" y="232.2" fill="#ff1a1a" text-anchor="middle">3</text>
<text x="525.8" y="221.1" fill="#ff1a1a" text-anchor="middle">1</text>
<text x="578.6" y="206.4" fill="#ff1a1a" text-anchor="middle">4</text>
<rect x="346.3" y="1.7" width="254.2" height="396.5" fill="none" stroke="#000" stroke-width="0.9"/>
<line x1="350.4" y1="398.2" x2="350.4" y2="401.8" stroke="#000" stroke-width="0.9"/>
<text x="350.8" y="415.5" text-anchor="middle">0</text>
<line x1="418.5" y1="398.2" x2="418.5" y2="401.8" stroke="#000" stroke-width="0.9"/>
<text x="418.9" y="415.5" text-anchor="middle">1</text>
<line x1="486.6" y1="398.2" x2="486.6" y2="401.8" stroke="#000" stroke-width="0.9"/>
<text x="487.0" y="415.5" text-anchor="middle">2</text>
<line x1="554.7" y1="398.2" x2="554.7" y2="401.8" stroke="#000" stroke-width="0.9"/>
<text x="555.1" y="415.5" text-anchor="middle">3</text>
<line x1="342.7" y1="369.4" x2="346.3" y2="369.4" stroke="#000" stroke-width="0.9"/>
<line x1="342.7" y1="290.5" x2="346.3" y2="290.5" stroke="#000" stroke-width="0.9"/>
<line x1="342.7" y1="211.6" x2="346.3" y2="211.6" stroke="#000" stroke-width="0.9"/>
<line x1="342.7" y1="132.7" x2="346.3" y2="132.7" stroke="#000" stroke-width="0.9"/>
<line x1="342.7" y1="53.9" x2="346.3" y2="53.9" stroke="#000" stroke-width="0.9"/>
<text x="473.4" y="430.3" text-anchor="middle">Time Since Study Start (hours)</text>
<text transform="translate(335.4,200.9) rotate(-90)" text-anchor="middle">Offset (seconds)</text>
<text x="3.7" y="17" font-size="13.5">A</text>
<text x="317.9" y="17" font-size="13.5">B</text>
<rect x="495.7" y="7.6" width="98.9" height="85.8" rx="2.2" fill="#fff" fill-opacity="0.8" stroke="#ccc" stroke-width="0.9"/>
<text x="544.9" y="20.8" text-anchor="middle">Slope (ppm)</text>
<line x1="501.1" y1="33.4" x2="523.0" y2="33.4" stroke="#1f77b4" stroke-width="1.7" stroke-linecap="square"/>
<text x="532.5" y="37.4">1: -459.0</text>
<line x1="501.1" y1="49.8" x2="523.0" y2="49.8" stroke="#ff7f0e" stroke-width="1.7" stroke-linecap="square"/>
<text x="532.5" y="53.8">2: -458.44</text>
<line x1="501.1" y1="66.2" x2="523.0" y2="66.2" stroke="#2ca02c" stroke-width="1.7" stroke-linecap="square"/>
<text x="532.5" y="70.2">3: -458.91</text>
<line x1="501.1" y1="82.6" x2="523.0" y2="82.6" stroke="#d62728" stroke-width="1.7" stroke-linecap="square"/>
<text x="532.5" y="86.6">4: -458.91</text>
</g>
</svg>
</body></html>
